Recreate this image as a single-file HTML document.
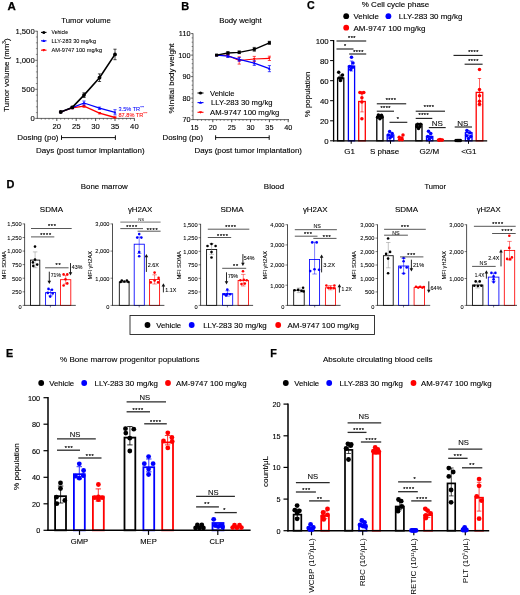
<!DOCTYPE html>
<html><head><meta charset="utf-8"><title>Figure</title>
<style>html,body{margin:0;padding:0;background:#fff}svg{display:block}text{font-family:"Liberation Sans",sans-serif}</style>
</head><body>
<svg width="520" height="595" viewBox="0 0 520 595">
<rect width="520" height="595" fill="#fff"/>
<text x="7.6" y="10.1" font-size="10.3" textLength="8.3" lengthAdjust="spacingAndGlyphs" font-weight="bold" stroke="#000" stroke-width="0.25">A</text>
<text x="181.3" y="9.6" font-size="10.3" textLength="7.9" lengthAdjust="spacingAndGlyphs" font-weight="bold" stroke="#000" stroke-width="0.25">B</text>
<text x="307.0" y="9.3" font-size="10.3" textLength="7.7" lengthAdjust="spacingAndGlyphs" font-weight="bold" stroke="#000" stroke-width="0.25">C</text>
<text x="6.6" y="187.6" font-size="10.3" textLength="7.9" lengthAdjust="spacingAndGlyphs" font-weight="bold" stroke="#000" stroke-width="0.25">D</text>
<text x="6.0" y="357.4" font-size="10.3" textLength="7.2" lengthAdjust="spacingAndGlyphs" font-weight="bold" stroke="#000" stroke-width="0.25">E</text>
<text x="270.2" y="357.4" font-size="10.3" textLength="6.6" lengthAdjust="spacingAndGlyphs" font-weight="bold" stroke="#000" stroke-width="0.25">F</text>
<text x="86.0" y="22.7" font-size="7.7" text-anchor="middle" textLength="49.5" lengthAdjust="spacingAndGlyphs" stroke="#000" stroke-width="0.11">Tumor volume</text>
<line x1="37.3" y1="30.9" x2="37.3" y2="118.7" stroke="#111" stroke-width="0.65"/>
<line x1="37.3" y1="118.4" x2="134.5" y2="118.4" stroke="#111" stroke-width="0.65"/>
<line x1="35.2" y1="118.4" x2="37.3" y2="118.4" stroke="#111" stroke-width="0.6"/>
<text x="34.7" y="120.8" font-size="7.7" text-anchor="end" stroke="#000" stroke-width="0.11">0</text>
<line x1="35.2" y1="89.3" x2="37.3" y2="89.3" stroke="#111" stroke-width="0.6"/>
<text x="34.7" y="91.7" font-size="7.7" text-anchor="end" stroke="#000" stroke-width="0.11">500</text>
<line x1="35.2" y1="60.3" x2="37.3" y2="60.3" stroke="#111" stroke-width="0.6"/>
<text x="34.7" y="62.6" font-size="7.7" text-anchor="end" stroke="#000" stroke-width="0.11">1,000</text>
<line x1="35.2" y1="31.2" x2="37.3" y2="31.2" stroke="#111" stroke-width="0.6"/>
<text x="34.7" y="33.6" font-size="7.7" text-anchor="end" stroke="#000" stroke-width="0.11">1,500</text>
<line x1="35.9" y1="112.6" x2="37.3" y2="112.6" stroke="#000" stroke-width="0.4"/>
<line x1="35.9" y1="106.8" x2="37.3" y2="106.8" stroke="#000" stroke-width="0.4"/>
<line x1="35.9" y1="101.0" x2="37.3" y2="101.0" stroke="#000" stroke-width="0.4"/>
<line x1="35.9" y1="95.1" x2="37.3" y2="95.1" stroke="#000" stroke-width="0.4"/>
<line x1="35.9" y1="83.5" x2="37.3" y2="83.5" stroke="#000" stroke-width="0.4"/>
<line x1="35.9" y1="77.7" x2="37.3" y2="77.7" stroke="#000" stroke-width="0.4"/>
<line x1="35.9" y1="71.9" x2="37.3" y2="71.9" stroke="#000" stroke-width="0.4"/>
<line x1="35.9" y1="66.1" x2="37.3" y2="66.1" stroke="#000" stroke-width="0.4"/>
<line x1="35.9" y1="54.4" x2="37.3" y2="54.4" stroke="#000" stroke-width="0.4"/>
<line x1="35.9" y1="48.6" x2="37.3" y2="48.6" stroke="#000" stroke-width="0.4"/>
<line x1="35.9" y1="42.8" x2="37.3" y2="42.8" stroke="#000" stroke-width="0.4"/>
<line x1="35.9" y1="37.0" x2="37.3" y2="37.0" stroke="#000" stroke-width="0.4"/>
<line x1="41.3" y1="118.4" x2="41.3" y2="119.8" stroke="#000" stroke-width="0.4"/>
<line x1="45.2" y1="118.4" x2="45.2" y2="119.8" stroke="#000" stroke-width="0.4"/>
<line x1="49.0" y1="118.4" x2="49.0" y2="119.8" stroke="#000" stroke-width="0.4"/>
<line x1="52.9" y1="118.4" x2="52.9" y2="119.8" stroke="#000" stroke-width="0.4"/>
<line x1="56.8" y1="118.4" x2="56.8" y2="121.0" stroke="#000" stroke-width="0.7"/>
<text x="56.8" y="129.4" font-size="7.7" text-anchor="middle" stroke="#000" stroke-width="0.11">20</text>
<line x1="60.7" y1="118.4" x2="60.7" y2="119.8" stroke="#000" stroke-width="0.4"/>
<line x1="64.6" y1="118.4" x2="64.6" y2="119.8" stroke="#000" stroke-width="0.4"/>
<line x1="68.4" y1="118.4" x2="68.4" y2="119.8" stroke="#000" stroke-width="0.4"/>
<line x1="72.3" y1="118.4" x2="72.3" y2="119.8" stroke="#000" stroke-width="0.4"/>
<line x1="76.2" y1="118.4" x2="76.2" y2="121.0" stroke="#000" stroke-width="0.7"/>
<text x="76.2" y="129.4" font-size="7.7" text-anchor="middle" stroke="#000" stroke-width="0.11">25</text>
<line x1="80.1" y1="118.4" x2="80.1" y2="119.8" stroke="#000" stroke-width="0.4"/>
<line x1="84.0" y1="118.4" x2="84.0" y2="119.8" stroke="#000" stroke-width="0.4"/>
<line x1="87.8" y1="118.4" x2="87.8" y2="119.8" stroke="#000" stroke-width="0.4"/>
<line x1="91.7" y1="118.4" x2="91.7" y2="119.8" stroke="#000" stroke-width="0.4"/>
<line x1="95.6" y1="118.4" x2="95.6" y2="121.0" stroke="#000" stroke-width="0.7"/>
<text x="95.6" y="129.4" font-size="7.7" text-anchor="middle" stroke="#000" stroke-width="0.11">30</text>
<line x1="99.5" y1="118.4" x2="99.5" y2="119.8" stroke="#000" stroke-width="0.4"/>
<line x1="103.4" y1="118.4" x2="103.4" y2="119.8" stroke="#000" stroke-width="0.4"/>
<line x1="107.2" y1="118.4" x2="107.2" y2="119.8" stroke="#000" stroke-width="0.4"/>
<line x1="111.1" y1="118.4" x2="111.1" y2="119.8" stroke="#000" stroke-width="0.4"/>
<line x1="115.0" y1="118.4" x2="115.0" y2="121.0" stroke="#000" stroke-width="0.7"/>
<text x="115.0" y="129.4" font-size="7.7" text-anchor="middle" stroke="#000" stroke-width="0.11">35</text>
<line x1="118.9" y1="118.4" x2="118.9" y2="119.8" stroke="#000" stroke-width="0.4"/>
<line x1="122.8" y1="118.4" x2="122.8" y2="119.8" stroke="#000" stroke-width="0.4"/>
<line x1="126.6" y1="118.4" x2="126.6" y2="119.8" stroke="#000" stroke-width="0.4"/>
<line x1="130.5" y1="118.4" x2="130.5" y2="119.8" stroke="#000" stroke-width="0.4"/>
<line x1="134.4" y1="118.4" x2="134.4" y2="121.0" stroke="#000" stroke-width="0.7"/>
<text x="134.4" y="129.4" font-size="7.7" text-anchor="middle" stroke="#000" stroke-width="0.11">40</text>
<text x="9.2" y="75.1" font-size="7.9" text-anchor="middle" transform="rotate(-90 9.2 75.1)" stroke="#000" stroke-width="0.12">Tumor volume (mm<tspan font-size="4.6" dy="-2.7">3</tspan><tspan dy="2.7">)</tspan></text>
<polyline points="60.7,112.0 72.3,107.9 84.0,106.2 99.5,113.2 115.0,117.5" fill="none" stroke="#ff0000" stroke-width="1.3" stroke-linejoin="round"/>
<line x1="60.7" y1="111.3" x2="60.7" y2="112.7" stroke="#ff0000" stroke-width="0.7"/>
<line x1="59.1" y1="111.3" x2="62.3" y2="111.3" stroke="#ff0000" stroke-width="0.7"/>
<line x1="59.1" y1="112.7" x2="62.3" y2="112.7" stroke="#ff0000" stroke-width="0.7"/>
<polygon points="59.3,110.9 62.1,110.9 60.7,113.4" fill="#ff0000"/>
<line x1="72.3" y1="107.1" x2="72.3" y2="108.8" stroke="#ff0000" stroke-width="0.7"/>
<line x1="70.7" y1="107.1" x2="73.9" y2="107.1" stroke="#ff0000" stroke-width="0.7"/>
<line x1="70.7" y1="108.8" x2="73.9" y2="108.8" stroke="#ff0000" stroke-width="0.7"/>
<polygon points="70.9,106.8 73.7,106.8 72.3,109.3" fill="#ff0000"/>
<line x1="84.0" y1="105.0" x2="84.0" y2="107.4" stroke="#ff0000" stroke-width="0.7"/>
<line x1="82.4" y1="105.0" x2="85.6" y2="105.0" stroke="#ff0000" stroke-width="0.7"/>
<line x1="82.4" y1="107.4" x2="85.6" y2="107.4" stroke="#ff0000" stroke-width="0.7"/>
<polygon points="82.6,105.1 85.4,105.1 84.0,107.6" fill="#ff0000"/>
<line x1="99.5" y1="112.5" x2="99.5" y2="113.9" stroke="#ff0000" stroke-width="0.7"/>
<line x1="97.9" y1="112.5" x2="101.1" y2="112.5" stroke="#ff0000" stroke-width="0.7"/>
<line x1="97.9" y1="113.9" x2="101.1" y2="113.9" stroke="#ff0000" stroke-width="0.7"/>
<polygon points="98.1,112.1 100.9,112.1 99.5,114.6" fill="#ff0000"/>
<line x1="115.0" y1="117.1" x2="115.0" y2="118.0" stroke="#ff0000" stroke-width="0.7"/>
<line x1="113.4" y1="117.1" x2="116.6" y2="117.1" stroke="#ff0000" stroke-width="0.7"/>
<line x1="113.4" y1="118.0" x2="116.6" y2="118.0" stroke="#ff0000" stroke-width="0.7"/>
<polygon points="113.6,116.4 116.4,116.4 115.0,118.9" fill="#ff0000"/>
<polyline points="60.7,112.0 72.3,107.6 84.0,103.0 99.5,108.2 115.0,112.3" fill="none" stroke="#0000ff" stroke-width="1.3" stroke-linejoin="round"/>
<line x1="60.7" y1="111.3" x2="60.7" y2="112.7" stroke="#0000ff" stroke-width="0.7"/>
<line x1="59.1" y1="111.3" x2="62.3" y2="111.3" stroke="#0000ff" stroke-width="0.7"/>
<line x1="59.1" y1="112.7" x2="62.3" y2="112.7" stroke="#0000ff" stroke-width="0.7"/>
<polygon points="59.3,113.1 62.1,113.1 60.7,110.6" fill="#0000ff"/>
<line x1="72.3" y1="106.6" x2="72.3" y2="108.7" stroke="#0000ff" stroke-width="0.7"/>
<line x1="70.7" y1="106.6" x2="73.9" y2="106.6" stroke="#0000ff" stroke-width="0.7"/>
<line x1="70.7" y1="108.7" x2="73.9" y2="108.7" stroke="#0000ff" stroke-width="0.7"/>
<polygon points="70.9,108.7 73.7,108.7 72.3,106.2" fill="#0000ff"/>
<line x1="84.0" y1="101.0" x2="84.0" y2="105.0" stroke="#0000ff" stroke-width="0.7"/>
<line x1="82.4" y1="101.0" x2="85.6" y2="101.0" stroke="#0000ff" stroke-width="0.7"/>
<line x1="82.4" y1="105.0" x2="85.6" y2="105.0" stroke="#0000ff" stroke-width="0.7"/>
<polygon points="82.6,104.1 85.4,104.1 84.0,101.6" fill="#0000ff"/>
<line x1="99.5" y1="107.1" x2="99.5" y2="109.4" stroke="#0000ff" stroke-width="0.7"/>
<line x1="97.9" y1="107.1" x2="101.1" y2="107.1" stroke="#0000ff" stroke-width="0.7"/>
<line x1="97.9" y1="109.4" x2="101.1" y2="109.4" stroke="#0000ff" stroke-width="0.7"/>
<polygon points="98.1,109.3 100.9,109.3 99.5,106.8" fill="#0000ff"/>
<line x1="115.0" y1="109.7" x2="115.0" y2="114.9" stroke="#0000ff" stroke-width="0.7"/>
<line x1="113.4" y1="109.7" x2="116.6" y2="109.7" stroke="#0000ff" stroke-width="0.7"/>
<line x1="113.4" y1="114.9" x2="116.6" y2="114.9" stroke="#0000ff" stroke-width="0.7"/>
<polygon points="113.6,113.4 116.4,113.4 115.0,110.9" fill="#0000ff"/>
<polyline points="60.7,112.0 72.3,107.4 84.0,95.1 99.5,77.7 115.0,54.4" fill="none" stroke="#000000" stroke-width="1.6" stroke-linejoin="round"/>
<line x1="60.7" y1="111.3" x2="60.7" y2="112.7" stroke="#000000" stroke-width="0.7"/>
<line x1="59.1" y1="111.3" x2="62.3" y2="111.3" stroke="#000000" stroke-width="0.7"/>
<line x1="59.1" y1="112.7" x2="62.3" y2="112.7" stroke="#000000" stroke-width="0.7"/>
<circle cx="60.7" cy="112.0" r="1.9" fill="#000000"/>
<line x1="72.3" y1="106.3" x2="72.3" y2="108.4" stroke="#000000" stroke-width="0.7"/>
<line x1="70.7" y1="106.3" x2="73.9" y2="106.3" stroke="#000000" stroke-width="0.7"/>
<line x1="70.7" y1="108.4" x2="73.9" y2="108.4" stroke="#000000" stroke-width="0.7"/>
<circle cx="72.3" cy="107.4" r="1.9" fill="#000000"/>
<line x1="84.0" y1="92.8" x2="84.0" y2="97.5" stroke="#000000" stroke-width="0.7"/>
<line x1="82.4" y1="92.8" x2="85.6" y2="92.8" stroke="#000000" stroke-width="0.7"/>
<line x1="82.4" y1="97.5" x2="85.6" y2="97.5" stroke="#000000" stroke-width="0.7"/>
<circle cx="84.0" cy="95.1" r="1.9" fill="#000000"/>
<line x1="99.5" y1="73.9" x2="99.5" y2="81.5" stroke="#000000" stroke-width="0.7"/>
<line x1="97.9" y1="73.9" x2="101.1" y2="73.9" stroke="#000000" stroke-width="0.7"/>
<line x1="97.9" y1="81.5" x2="101.1" y2="81.5" stroke="#000000" stroke-width="0.7"/>
<circle cx="99.5" cy="77.7" r="1.9" fill="#000000"/>
<line x1="115.0" y1="49.2" x2="115.0" y2="59.7" stroke="#000000" stroke-width="0.7"/>
<line x1="113.4" y1="49.2" x2="116.6" y2="49.2" stroke="#000000" stroke-width="0.7"/>
<line x1="113.4" y1="59.7" x2="116.6" y2="59.7" stroke="#000000" stroke-width="0.7"/>
<circle cx="115.0" cy="54.4" r="1.9" fill="#000000"/>
<line x1="41.0" y1="32.4" x2="46.5" y2="32.4" stroke="#000000" stroke-width="1.1"/>
<circle cx="43.8" cy="32.4" r="1.5" fill="#000000"/>
<text x="51.5" y="34.4" font-size="5.6" textLength="16.5" lengthAdjust="spacingAndGlyphs" stroke="#000" stroke-width="0.07">Vehicle</text>
<line x1="41.0" y1="40.8" x2="46.5" y2="40.8" stroke="#0000ff" stroke-width="1.1"/>
<polygon points="42.3,41.9 45.3,41.9 43.8,39.3" fill="#0000ff"/>
<text x="51.5" y="42.8" font-size="5.6" textLength="44.5" lengthAdjust="spacingAndGlyphs" stroke="#000" stroke-width="0.07">LLY-283 30 mg/kg</text>
<line x1="41.0" y1="50.2" x2="46.5" y2="50.2" stroke="#ff0000" stroke-width="1.1"/>
<polygon points="42.3,49.1 45.3,49.1 43.8,51.7" fill="#ff0000"/>
<text x="51.5" y="52.2" font-size="5.6" textLength="50.5" lengthAdjust="spacingAndGlyphs" stroke="#000" stroke-width="0.07">AM-9747 100 mg/kg</text>
<text x="118.5" y="111.2" font-size="5.6" fill="#0000ff" stroke="#0000ff" stroke-width="0.07">3.5% TR<tspan font-size="3.4" dy="-2">***</tspan></text>
<text x="118.5" y="117.3" font-size="5.6" fill="#ff0000" stroke="#ff0000" stroke-width="0.07">87.8% TR<tspan font-size="3.4" dy="-2">***</tspan></text>
<text x="17.2" y="140.1" font-size="8" textLength="41.3" lengthAdjust="spacingAndGlyphs" stroke="#000" stroke-width="0.12">Dosing (po)</text>
<line x1="61.5" y1="137.6" x2="115.4" y2="137.6" stroke="#111" stroke-width="1.0"/>
<line x1="61.5" y1="135.3" x2="61.5" y2="139.9" stroke="#111" stroke-width="1.0"/>
<line x1="115.4" y1="135.3" x2="115.4" y2="139.9" stroke="#111" stroke-width="1.0"/>
<text x="36.0" y="153.1" font-size="8" textLength="108.6" lengthAdjust="spacingAndGlyphs" stroke="#000" stroke-width="0.12">Days (post tumor implantation)</text>
<text x="240.5" y="23.4" font-size="7.8" text-anchor="middle" textLength="42.6" lengthAdjust="spacingAndGlyphs" stroke="#000" stroke-width="0.12">Body weight</text>
<line x1="193.0" y1="33.3" x2="193.0" y2="119.9" stroke="#111" stroke-width="0.65"/>
<line x1="193.0" y1="119.6" x2="289.0" y2="119.6" stroke="#111" stroke-width="0.65"/>
<line x1="190.9" y1="119.6" x2="193.0" y2="119.6" stroke="#111" stroke-width="0.6"/>
<text x="190.5" y="122.4" font-size="7.3" text-anchor="end" stroke="#000" stroke-width="0.11">70</text>
<line x1="190.9" y1="98.1" x2="193.0" y2="98.1" stroke="#111" stroke-width="0.6"/>
<text x="190.5" y="100.9" font-size="7.3" text-anchor="end" stroke="#000" stroke-width="0.11">80</text>
<line x1="190.9" y1="76.6" x2="193.0" y2="76.6" stroke="#111" stroke-width="0.6"/>
<text x="190.5" y="79.4" font-size="7.3" text-anchor="end" stroke="#000" stroke-width="0.11">90</text>
<line x1="190.9" y1="55.1" x2="193.0" y2="55.1" stroke="#111" stroke-width="0.6"/>
<text x="190.5" y="57.9" font-size="7.3" text-anchor="end" stroke="#000" stroke-width="0.11">100</text>
<line x1="190.9" y1="33.6" x2="193.0" y2="33.6" stroke="#111" stroke-width="0.6"/>
<text x="190.5" y="36.4" font-size="7.3" text-anchor="end" stroke="#000" stroke-width="0.11">110</text>
<line x1="191.6" y1="115.3" x2="193.0" y2="115.3" stroke="#000" stroke-width="0.4"/>
<line x1="191.6" y1="111.0" x2="193.0" y2="111.0" stroke="#000" stroke-width="0.4"/>
<line x1="191.6" y1="106.7" x2="193.0" y2="106.7" stroke="#000" stroke-width="0.4"/>
<line x1="191.6" y1="102.4" x2="193.0" y2="102.4" stroke="#000" stroke-width="0.4"/>
<line x1="191.6" y1="93.8" x2="193.0" y2="93.8" stroke="#000" stroke-width="0.4"/>
<line x1="191.6" y1="89.5" x2="193.0" y2="89.5" stroke="#000" stroke-width="0.4"/>
<line x1="191.6" y1="85.2" x2="193.0" y2="85.2" stroke="#000" stroke-width="0.4"/>
<line x1="191.6" y1="80.9" x2="193.0" y2="80.9" stroke="#000" stroke-width="0.4"/>
<line x1="191.6" y1="72.3" x2="193.0" y2="72.3" stroke="#000" stroke-width="0.4"/>
<line x1="191.6" y1="68.0" x2="193.0" y2="68.0" stroke="#000" stroke-width="0.4"/>
<line x1="191.6" y1="63.7" x2="193.0" y2="63.7" stroke="#000" stroke-width="0.4"/>
<line x1="191.6" y1="59.4" x2="193.0" y2="59.4" stroke="#000" stroke-width="0.4"/>
<line x1="191.6" y1="50.8" x2="193.0" y2="50.8" stroke="#000" stroke-width="0.4"/>
<line x1="191.6" y1="46.5" x2="193.0" y2="46.5" stroke="#000" stroke-width="0.4"/>
<line x1="191.6" y1="42.2" x2="193.0" y2="42.2" stroke="#000" stroke-width="0.4"/>
<line x1="191.6" y1="37.9" x2="193.0" y2="37.9" stroke="#000" stroke-width="0.4"/>
<text x="194.6" y="129.8" font-size="7.3" text-anchor="middle" stroke="#000" stroke-width="0.11">15</text>
<line x1="197.7" y1="119.6" x2="197.7" y2="121.0" stroke="#000" stroke-width="0.4"/>
<line x1="201.5" y1="119.6" x2="201.5" y2="121.0" stroke="#000" stroke-width="0.4"/>
<line x1="205.3" y1="119.6" x2="205.3" y2="121.0" stroke="#000" stroke-width="0.4"/>
<line x1="209.0" y1="119.6" x2="209.0" y2="121.0" stroke="#000" stroke-width="0.4"/>
<line x1="212.8" y1="119.6" x2="212.8" y2="122.2" stroke="#000" stroke-width="0.7"/>
<text x="212.8" y="129.8" font-size="7.3" text-anchor="middle" stroke="#000" stroke-width="0.11">20</text>
<line x1="216.6" y1="119.6" x2="216.6" y2="121.0" stroke="#000" stroke-width="0.4"/>
<line x1="220.3" y1="119.6" x2="220.3" y2="121.0" stroke="#000" stroke-width="0.4"/>
<line x1="224.1" y1="119.6" x2="224.1" y2="121.0" stroke="#000" stroke-width="0.4"/>
<line x1="227.9" y1="119.6" x2="227.9" y2="121.0" stroke="#000" stroke-width="0.4"/>
<line x1="231.7" y1="119.6" x2="231.7" y2="122.2" stroke="#000" stroke-width="0.7"/>
<text x="231.7" y="129.8" font-size="7.3" text-anchor="middle" stroke="#000" stroke-width="0.11">25</text>
<line x1="235.4" y1="119.6" x2="235.4" y2="121.0" stroke="#000" stroke-width="0.4"/>
<line x1="239.2" y1="119.6" x2="239.2" y2="121.0" stroke="#000" stroke-width="0.4"/>
<line x1="243.0" y1="119.6" x2="243.0" y2="121.0" stroke="#000" stroke-width="0.4"/>
<line x1="246.7" y1="119.6" x2="246.7" y2="121.0" stroke="#000" stroke-width="0.4"/>
<line x1="250.5" y1="119.6" x2="250.5" y2="122.2" stroke="#000" stroke-width="0.7"/>
<text x="250.5" y="129.8" font-size="7.3" text-anchor="middle" stroke="#000" stroke-width="0.11">30</text>
<line x1="254.3" y1="119.6" x2="254.3" y2="121.0" stroke="#000" stroke-width="0.4"/>
<line x1="258.0" y1="119.6" x2="258.0" y2="121.0" stroke="#000" stroke-width="0.4"/>
<line x1="261.8" y1="119.6" x2="261.8" y2="121.0" stroke="#000" stroke-width="0.4"/>
<line x1="265.6" y1="119.6" x2="265.6" y2="121.0" stroke="#000" stroke-width="0.4"/>
<line x1="269.4" y1="119.6" x2="269.4" y2="122.2" stroke="#000" stroke-width="0.7"/>
<text x="269.4" y="129.8" font-size="7.3" text-anchor="middle" stroke="#000" stroke-width="0.11">35</text>
<line x1="273.1" y1="119.6" x2="273.1" y2="121.0" stroke="#000" stroke-width="0.4"/>
<line x1="276.9" y1="119.6" x2="276.9" y2="121.0" stroke="#000" stroke-width="0.4"/>
<line x1="280.7" y1="119.6" x2="280.7" y2="121.0" stroke="#000" stroke-width="0.4"/>
<line x1="284.4" y1="119.6" x2="284.4" y2="121.0" stroke="#000" stroke-width="0.4"/>
<line x1="288.2" y1="119.6" x2="288.2" y2="122.2" stroke="#000" stroke-width="0.7"/>
<text x="288.2" y="129.8" font-size="7.3" text-anchor="middle" stroke="#000" stroke-width="0.11">40</text>
<text x="174.3" y="78.5" font-size="7.6" text-anchor="middle" textLength="70.0" lengthAdjust="spacingAndGlyphs" transform="rotate(-90 174.3 78.5)" stroke="#000" stroke-width="0.11">%Initial body weight</text>
<polyline points="216.6,55.1 227.9,55.5 239.2,60.5 254.3,59.0 269.4,58.3" fill="none" stroke="#ff0000" stroke-width="1.2" stroke-linejoin="round"/>
<line x1="216.6" y1="54.5" x2="216.6" y2="55.7" stroke="#ff0000" stroke-width="0.7"/>
<line x1="215.0" y1="54.5" x2="218.2" y2="54.5" stroke="#ff0000" stroke-width="0.7"/>
<line x1="215.0" y1="55.7" x2="218.2" y2="55.7" stroke="#ff0000" stroke-width="0.7"/>
<polygon points="215.2,54.0 218.0,54.0 216.6,56.5" fill="#ff0000"/>
<line x1="227.9" y1="54.2" x2="227.9" y2="56.8" stroke="#ff0000" stroke-width="0.7"/>
<line x1="226.3" y1="54.2" x2="229.5" y2="54.2" stroke="#ff0000" stroke-width="0.7"/>
<line x1="226.3" y1="56.8" x2="229.5" y2="56.8" stroke="#ff0000" stroke-width="0.7"/>
<polygon points="226.5,54.4 229.3,54.4 227.9,56.9" fill="#ff0000"/>
<line x1="239.2" y1="56.8" x2="239.2" y2="64.1" stroke="#ff0000" stroke-width="0.7"/>
<line x1="237.6" y1="56.8" x2="240.8" y2="56.8" stroke="#ff0000" stroke-width="0.7"/>
<line x1="237.6" y1="64.1" x2="240.8" y2="64.1" stroke="#ff0000" stroke-width="0.7"/>
<polygon points="237.8,59.4 240.6,59.4 239.2,61.9" fill="#ff0000"/>
<line x1="254.3" y1="56.4" x2="254.3" y2="61.5" stroke="#ff0000" stroke-width="0.7"/>
<line x1="252.7" y1="56.4" x2="255.9" y2="56.4" stroke="#ff0000" stroke-width="0.7"/>
<line x1="252.7" y1="61.5" x2="255.9" y2="61.5" stroke="#ff0000" stroke-width="0.7"/>
<polygon points="252.9,57.9 255.7,57.9 254.3,60.4" fill="#ff0000"/>
<line x1="269.4" y1="56.2" x2="269.4" y2="60.5" stroke="#ff0000" stroke-width="0.7"/>
<line x1="267.8" y1="56.2" x2="271.0" y2="56.2" stroke="#ff0000" stroke-width="0.7"/>
<line x1="267.8" y1="60.5" x2="271.0" y2="60.5" stroke="#ff0000" stroke-width="0.7"/>
<polygon points="268.0,57.2 270.8,57.2 269.4,59.7" fill="#ff0000"/>
<polyline points="216.6,55.1 227.9,56.2 239.2,59.4 254.3,63.1 269.4,68.6" fill="none" stroke="#0000ff" stroke-width="1.2" stroke-linejoin="round"/>
<line x1="216.6" y1="54.5" x2="216.6" y2="55.7" stroke="#0000ff" stroke-width="0.7"/>
<line x1="215.0" y1="54.5" x2="218.2" y2="54.5" stroke="#0000ff" stroke-width="0.7"/>
<line x1="215.0" y1="55.7" x2="218.2" y2="55.7" stroke="#0000ff" stroke-width="0.7"/>
<polygon points="215.2,56.2 218.0,56.2 216.6,53.7" fill="#0000ff"/>
<line x1="227.9" y1="54.9" x2="227.9" y2="57.5" stroke="#0000ff" stroke-width="0.7"/>
<line x1="226.3" y1="54.9" x2="229.5" y2="54.9" stroke="#0000ff" stroke-width="0.7"/>
<line x1="226.3" y1="57.5" x2="229.5" y2="57.5" stroke="#0000ff" stroke-width="0.7"/>
<polygon points="226.5,57.3 229.3,57.3 227.9,54.8" fill="#0000ff"/>
<line x1="239.2" y1="57.5" x2="239.2" y2="61.3" stroke="#0000ff" stroke-width="0.7"/>
<line x1="237.6" y1="57.5" x2="240.8" y2="57.5" stroke="#0000ff" stroke-width="0.7"/>
<line x1="237.6" y1="61.3" x2="240.8" y2="61.3" stroke="#0000ff" stroke-width="0.7"/>
<polygon points="237.8,60.5 240.6,60.5 239.2,58.0" fill="#0000ff"/>
<line x1="254.3" y1="60.7" x2="254.3" y2="65.4" stroke="#0000ff" stroke-width="0.7"/>
<line x1="252.7" y1="60.7" x2="255.9" y2="60.7" stroke="#0000ff" stroke-width="0.7"/>
<line x1="252.7" y1="65.4" x2="255.9" y2="65.4" stroke="#0000ff" stroke-width="0.7"/>
<polygon points="252.9,64.2 255.7,64.2 254.3,61.7" fill="#0000ff"/>
<line x1="269.4" y1="65.6" x2="269.4" y2="71.7" stroke="#0000ff" stroke-width="0.7"/>
<line x1="267.8" y1="65.6" x2="271.0" y2="65.6" stroke="#0000ff" stroke-width="0.7"/>
<line x1="267.8" y1="71.7" x2="271.0" y2="71.7" stroke="#0000ff" stroke-width="0.7"/>
<polygon points="268.0,69.7 270.8,69.7 269.4,67.2" fill="#0000ff"/>
<polyline points="216.6,55.1 227.9,53.0 239.2,52.3 254.3,49.3 269.4,42.8" fill="none" stroke="#000000" stroke-width="1.3" stroke-linejoin="round"/>
<line x1="216.6" y1="54.5" x2="216.6" y2="55.7" stroke="#000000" stroke-width="0.7"/>
<line x1="215.0" y1="54.5" x2="218.2" y2="54.5" stroke="#000000" stroke-width="0.7"/>
<line x1="215.0" y1="55.7" x2="218.2" y2="55.7" stroke="#000000" stroke-width="0.7"/>
<rect x="215.1" y="53.6" width="3.0" height="3.0" fill="#000000" stroke="#000000" stroke-width="0"/>
<line x1="227.9" y1="51.7" x2="227.9" y2="54.2" stroke="#000000" stroke-width="0.7"/>
<line x1="226.3" y1="51.7" x2="229.5" y2="51.7" stroke="#000000" stroke-width="0.7"/>
<line x1="226.3" y1="54.2" x2="229.5" y2="54.2" stroke="#000000" stroke-width="0.7"/>
<rect x="226.4" y="51.5" width="3.0" height="3.0" fill="#000000" stroke="#000000" stroke-width="0"/>
<line x1="239.2" y1="51.0" x2="239.2" y2="53.6" stroke="#000000" stroke-width="0.7"/>
<line x1="237.6" y1="51.0" x2="240.8" y2="51.0" stroke="#000000" stroke-width="0.7"/>
<line x1="237.6" y1="53.6" x2="240.8" y2="53.6" stroke="#000000" stroke-width="0.7"/>
<rect x="237.7" y="50.8" width="3.0" height="3.0" fill="#000000" stroke="#000000" stroke-width="0"/>
<line x1="254.3" y1="47.4" x2="254.3" y2="51.2" stroke="#000000" stroke-width="0.7"/>
<line x1="252.7" y1="47.4" x2="255.9" y2="47.4" stroke="#000000" stroke-width="0.7"/>
<line x1="252.7" y1="51.2" x2="255.9" y2="51.2" stroke="#000000" stroke-width="0.7"/>
<rect x="252.8" y="47.8" width="3.0" height="3.0" fill="#000000" stroke="#000000" stroke-width="0"/>
<line x1="269.4" y1="41.3" x2="269.4" y2="44.3" stroke="#000000" stroke-width="0.7"/>
<line x1="267.8" y1="41.3" x2="271.0" y2="41.3" stroke="#000000" stroke-width="0.7"/>
<line x1="267.8" y1="44.3" x2="271.0" y2="44.3" stroke="#000000" stroke-width="0.7"/>
<rect x="267.9" y="41.3" width="3.0" height="3.0" fill="#000000" stroke="#000000" stroke-width="0"/>
<line x1="197.5" y1="93.0" x2="203.5" y2="93.0" stroke="#000000" stroke-width="1.1"/>
<circle cx="200.5" cy="93.0" r="1.6" fill="#000000"/>
<text x="210.0" y="95.8" font-size="7.7" textLength="24.5" lengthAdjust="spacingAndGlyphs" stroke="#000" stroke-width="0.11">Vehicle</text>
<line x1="197.5" y1="102.6" x2="203.5" y2="102.6" stroke="#0000ff" stroke-width="1.1"/>
<polygon points="199.0,103.7 202.0,103.7 200.5,101.1" fill="#0000ff"/>
<text x="211.0" y="105.4" font-size="7.7" textLength="61.5" lengthAdjust="spacingAndGlyphs" stroke="#000" stroke-width="0.11">LLY-283 30 mg/kg</text>
<line x1="197.5" y1="112.3" x2="203.5" y2="112.3" stroke="#ff0000" stroke-width="1.1"/>
<polygon points="199.0,111.2 202.0,111.2 200.5,113.8" fill="#ff0000"/>
<text x="210.0" y="115.1" font-size="7.7" textLength="69.3" lengthAdjust="spacingAndGlyphs" stroke="#000" stroke-width="0.11">AM-9747 100 mg/kg</text>
<text x="162.5" y="139.6" font-size="7.9" textLength="40.5" lengthAdjust="spacingAndGlyphs" stroke="#000" stroke-width="0.12">Dosing (po)</text>
<line x1="215.6" y1="137.6" x2="269.2" y2="137.6" stroke="#111" stroke-width="1.0"/>
<line x1="215.6" y1="135.3" x2="215.6" y2="139.9" stroke="#111" stroke-width="1.0"/>
<line x1="269.2" y1="135.3" x2="269.2" y2="139.9" stroke="#111" stroke-width="1.0"/>
<text x="194.5" y="153.2" font-size="7.9" textLength="107.5" lengthAdjust="spacingAndGlyphs" stroke="#000" stroke-width="0.12">Days (post tumor implantation)</text>
<text x="361.8" y="7.2" font-size="8" textLength="67.5" lengthAdjust="spacingAndGlyphs" stroke="#000" stroke-width="0.12">% Cell cycle phase</text>
<circle cx="346.2" cy="16.2" r="2.9" fill="#000000"/>
<text x="353.5" y="19.3" font-size="8" textLength="25.5" lengthAdjust="spacingAndGlyphs" stroke="#000" stroke-width="0.12">Vehicle</text>
<circle cx="388.4" cy="16.2" r="2.9" fill="#0000ff"/>
<text x="398.8" y="19.3" font-size="8" textLength="63.5" lengthAdjust="spacingAndGlyphs" stroke="#000" stroke-width="0.12">LLY-283 30 mg/kg</text>
<circle cx="346.2" cy="27.7" r="2.9" fill="#ff0000"/>
<text x="353.5" y="30.8" font-size="8" textLength="72.0" lengthAdjust="spacingAndGlyphs" stroke="#000" stroke-width="0.12">AM-9747 100 mg/kg</text>
<text x="310.0" y="94.4" font-size="7.6" text-anchor="middle" textLength="45.7" lengthAdjust="spacingAndGlyphs" transform="rotate(-90 310.0 94.4)" stroke="#000" stroke-width="0.11">% population</text>
<rect x="337.6" y="78.1" width="6.2" height="62.7" fill="#fff" stroke="#000000" stroke-width="1.3"/>
<line x1="340.7" y1="75.0" x2="340.7" y2="81.0" stroke="#000000" stroke-width="0.6"/>
<line x1="339.0" y1="75.0" x2="342.4" y2="75.0" stroke="#000000" stroke-width="0.6"/>
<line x1="339.0" y1="81.0" x2="342.4" y2="81.0" stroke="#000000" stroke-width="0.6"/>
<rect x="348.4" y="66.1" width="6.2" height="74.7" fill="#fff" stroke="#0000ff" stroke-width="1.3"/>
<line x1="351.5" y1="61.0" x2="351.5" y2="71.0" stroke="#0000ff" stroke-width="0.6"/>
<line x1="349.8" y1="61.0" x2="353.2" y2="61.0" stroke="#0000ff" stroke-width="0.6"/>
<line x1="349.8" y1="71.0" x2="353.2" y2="71.0" stroke="#0000ff" stroke-width="0.6"/>
<rect x="358.7" y="101.5" width="6.6" height="39.3" fill="#fff" stroke="#ff0000" stroke-width="1.3"/>
<line x1="362.0" y1="92.0" x2="362.0" y2="111.9" stroke="#ff0000" stroke-width="0.6"/>
<line x1="360.3" y1="92.0" x2="363.7" y2="92.0" stroke="#ff0000" stroke-width="0.6"/>
<line x1="360.3" y1="111.9" x2="363.7" y2="111.9" stroke="#ff0000" stroke-width="0.6"/>
<line x1="351.2" y1="140.8" x2="351.2" y2="143.8" stroke="#000" stroke-width="1.0"/>
<text x="349.6" y="154.4" font-size="8" text-anchor="middle" stroke="#000" stroke-width="0.12">G1</text>
<rect x="376.8" y="116.5" width="6.2" height="24.3" fill="#fff" stroke="#000000" stroke-width="1.3"/>
<rect x="387.2" y="135.0" width="6.6" height="5.8" fill="#fff" stroke="#0000ff" stroke-width="1.3"/>
<line x1="390.5" y1="140.8" x2="390.5" y2="143.8" stroke="#000" stroke-width="1.0"/>
<text x="384.6" y="154.4" font-size="8" text-anchor="middle" stroke="#000" stroke-width="0.12">S phase</text>
<rect x="415.8" y="124.2" width="6.2" height="16.6" fill="#fff" stroke="#000000" stroke-width="1.3"/>
<rect x="426.5" y="136.5" width="6.3" height="4.3" fill="#fff" stroke="#0000ff" stroke-width="1.3"/>
<line x1="429.6" y1="133.0" x2="429.6" y2="139.0" stroke="#0000ff" stroke-width="0.6"/>
<line x1="427.9" y1="133.0" x2="431.3" y2="133.0" stroke="#0000ff" stroke-width="0.6"/>
<line x1="427.9" y1="139.0" x2="431.3" y2="139.0" stroke="#0000ff" stroke-width="0.6"/>
<line x1="429.3" y1="140.8" x2="429.3" y2="143.8" stroke="#000" stroke-width="1.0"/>
<text x="429.3" y="154.4" font-size="8" text-anchor="middle" stroke="#000" stroke-width="0.12">G2/M</text>
<rect x="465.4" y="132.7" width="6.6" height="8.1" fill="#fff" stroke="#0000ff" stroke-width="1.3"/>
<line x1="468.7" y1="130.5" x2="468.7" y2="136.0" stroke="#0000ff" stroke-width="0.6"/>
<line x1="467.0" y1="130.5" x2="470.4" y2="130.5" stroke="#0000ff" stroke-width="0.6"/>
<line x1="467.0" y1="136.0" x2="470.4" y2="136.0" stroke="#0000ff" stroke-width="0.6"/>
<rect x="476.2" y="92.4" width="6.6" height="48.4" fill="#fff" stroke="#ff0000" stroke-width="1.3"/>
<line x1="479.5" y1="78.5" x2="479.5" y2="105.8" stroke="#ff0000" stroke-width="0.6"/>
<line x1="477.8" y1="78.5" x2="481.2" y2="78.5" stroke="#ff0000" stroke-width="0.6"/>
<line x1="477.8" y1="105.8" x2="481.2" y2="105.8" stroke="#ff0000" stroke-width="0.6"/>
<line x1="468.5" y1="140.8" x2="468.5" y2="143.8" stroke="#000" stroke-width="1.0"/>
<text x="468.8" y="154.4" font-size="8" text-anchor="middle" stroke="#000" stroke-width="0.12">&lt;G1</text>
<line x1="333.6" y1="40.0" x2="333.6" y2="141.4" stroke="#000" stroke-width="1.3"/>
<line x1="333.0" y1="140.8" x2="487.2" y2="140.8" stroke="#000" stroke-width="1.3"/>
<circle cx="338.7" cy="72.2" r="1.75" fill="#000000"/>
<circle cx="342.5" cy="75.0" r="1.75" fill="#000000"/>
<circle cx="339.2" cy="78.1" r="1.75" fill="#000000"/>
<circle cx="341.9" cy="78.1" r="1.75" fill="#000000"/>
<circle cx="340.4" cy="80.4" r="1.75" fill="#000000"/>
<circle cx="351.5" cy="57.3" r="1.75" fill="#0000ff"/>
<circle cx="353.0" cy="63.0" r="1.75" fill="#0000ff"/>
<circle cx="349.6" cy="66.5" r="1.75" fill="#0000ff"/>
<circle cx="352.7" cy="67.3" r="1.75" fill="#0000ff"/>
<circle cx="350.7" cy="69.6" r="1.75" fill="#0000ff"/>
<circle cx="359.9" cy="92.4" r="1.75" fill="#ff0000"/>
<circle cx="363.8" cy="92.4" r="1.75" fill="#ff0000"/>
<circle cx="361.9" cy="93.0" r="1.75" fill="#ff0000"/>
<circle cx="361.9" cy="97.8" r="1.75" fill="#ff0000"/>
<circle cx="361.9" cy="101.9" r="1.75" fill="#ff0000"/>
<circle cx="361.9" cy="118.8" r="1.75" fill="#ff0000"/>
<circle cx="378.4" cy="115.0" r="1.75" fill="#000000"/>
<circle cx="381.5" cy="115.3" r="1.75" fill="#000000"/>
<circle cx="377.6" cy="117.3" r="1.75" fill="#000000"/>
<circle cx="381.9" cy="117.3" r="1.75" fill="#000000"/>
<circle cx="379.9" cy="118.8" r="1.75" fill="#000000"/>
<circle cx="389.6" cy="131.5" r="1.75" fill="#0000ff"/>
<circle cx="392.2" cy="133.5" r="1.75" fill="#0000ff"/>
<circle cx="388.4" cy="135.0" r="1.75" fill="#0000ff"/>
<circle cx="391.5" cy="136.5" r="1.75" fill="#0000ff"/>
<circle cx="389.9" cy="138.1" r="1.75" fill="#0000ff"/>
<circle cx="403.0" cy="135.0" r="1.75" fill="#ff0000"/>
<circle cx="399.2" cy="137.3" r="1.75" fill="#ff0000"/>
<circle cx="401.9" cy="138.1" r="1.75" fill="#ff0000"/>
<circle cx="399.5" cy="139.7" r="1.75" fill="#ff0000"/>
<circle cx="402.2" cy="139.7" r="1.75" fill="#ff0000"/>
<circle cx="417.7" cy="124.2" r="1.75" fill="#000000"/>
<circle cx="420.5" cy="124.2" r="1.75" fill="#000000"/>
<circle cx="416.9" cy="126.5" r="1.75" fill="#000000"/>
<circle cx="420.0" cy="126.5" r="1.75" fill="#000000"/>
<circle cx="418.5" cy="128.4" r="1.75" fill="#000000"/>
<circle cx="428.5" cy="131.2" r="1.75" fill="#0000ff"/>
<circle cx="430.8" cy="133.5" r="1.75" fill="#0000ff"/>
<circle cx="427.7" cy="136.5" r="1.75" fill="#0000ff"/>
<circle cx="431.2" cy="137.3" r="1.75" fill="#0000ff"/>
<circle cx="429.2" cy="139.2" r="1.75" fill="#0000ff"/>
<circle cx="438.5" cy="139.9" r="1.75" fill="#ff0000"/>
<circle cx="440.0" cy="139.6" r="1.75" fill="#ff0000"/>
<circle cx="441.2" cy="139.9" r="1.75" fill="#ff0000"/>
<circle cx="442.4" cy="139.9" r="1.75" fill="#ff0000"/>
<circle cx="439.3" cy="140.2" r="1.75" fill="#ff0000"/>
<circle cx="456.0" cy="140.5" r="1.75" fill="#000000"/>
<circle cx="457.3" cy="140.5" r="1.75" fill="#000000"/>
<circle cx="458.3" cy="140.5" r="1.75" fill="#000000"/>
<circle cx="459.3" cy="140.5" r="1.75" fill="#000000"/>
<circle cx="460.4" cy="140.5" r="1.75" fill="#000000"/>
<circle cx="466.9" cy="130.4" r="1.75" fill="#0000ff"/>
<circle cx="470.0" cy="132.7" r="1.75" fill="#0000ff"/>
<circle cx="466.6" cy="135.8" r="1.75" fill="#0000ff"/>
<circle cx="470.8" cy="136.5" r="1.75" fill="#0000ff"/>
<circle cx="468.5" cy="138.5" r="1.75" fill="#0000ff"/>
<circle cx="479.5" cy="69.6" r="1.75" fill="#ff0000"/>
<circle cx="479.5" cy="89.6" r="1.75" fill="#ff0000"/>
<circle cx="479.5" cy="95.8" r="1.75" fill="#ff0000"/>
<circle cx="479.5" cy="101.2" r="1.75" fill="#ff0000"/>
<circle cx="479.5" cy="104.2" r="1.75" fill="#ff0000"/>
<line x1="330.1" y1="140.8" x2="333.6" y2="140.8" stroke="#000" stroke-width="1.0"/>
<text x="328.7" y="143.8" font-size="7.8" text-anchor="end" stroke="#000" stroke-width="0.12">0</text>
<line x1="330.1" y1="120.8" x2="333.6" y2="120.8" stroke="#000" stroke-width="1.0"/>
<text x="328.7" y="123.8" font-size="7.8" text-anchor="end" stroke="#000" stroke-width="0.12">20</text>
<line x1="330.1" y1="100.7" x2="333.6" y2="100.7" stroke="#000" stroke-width="1.0"/>
<text x="328.7" y="103.7" font-size="7.8" text-anchor="end" stroke="#000" stroke-width="0.12">40</text>
<line x1="330.1" y1="80.7" x2="333.6" y2="80.7" stroke="#000" stroke-width="1.0"/>
<text x="328.7" y="83.7" font-size="7.8" text-anchor="end" stroke="#000" stroke-width="0.12">60</text>
<line x1="330.1" y1="60.6" x2="333.6" y2="60.6" stroke="#000" stroke-width="1.0"/>
<text x="328.7" y="63.6" font-size="7.8" text-anchor="end" stroke="#000" stroke-width="0.12">80</text>
<line x1="330.1" y1="40.6" x2="333.6" y2="40.6" stroke="#000" stroke-width="1.0"/>
<text x="328.7" y="43.6" font-size="7.8" text-anchor="end" stroke="#000" stroke-width="0.12">100</text>
<line x1="336.5" y1="41.0" x2="366.2" y2="41.0" stroke="#1a1a1a" stroke-width="1.1"/>
<text x="352.0" y="39.8" font-size="5.5" text-anchor="middle" fill="#111" letter-spacing="0.51" stroke="#111" stroke-width="0.22">***</text>
<line x1="336.5" y1="49.0" x2="353.5" y2="49.0" stroke="#1a1a1a" stroke-width="1.1"/>
<text x="345.3" y="48.4" font-size="5.5" text-anchor="middle" fill="#111" letter-spacing="0.51" stroke="#111" stroke-width="0.22">*</text>
<line x1="349.2" y1="54.0" x2="366.2" y2="54.0" stroke="#1a1a1a" stroke-width="1.1"/>
<text x="358.5" y="54.2" font-size="5.5" text-anchor="middle" fill="#111" letter-spacing="0.51" stroke="#111" stroke-width="0.22">****</text>
<line x1="376.8" y1="103.8" x2="406.2" y2="103.8" stroke="#1a1a1a" stroke-width="1.1"/>
<text x="391.0" y="101.7" font-size="5.5" text-anchor="middle" fill="#111" letter-spacing="0.51" stroke="#111" stroke-width="0.22">****</text>
<line x1="376.8" y1="111.2" x2="394.0" y2="111.2" stroke="#1a1a1a" stroke-width="1.1"/>
<text x="385.7" y="109.8" font-size="5.5" text-anchor="middle" fill="#111" letter-spacing="0.51" stroke="#111" stroke-width="0.22">****</text>
<line x1="389.5" y1="122.3" x2="407.3" y2="122.3" stroke="#1a1a1a" stroke-width="1.1"/>
<text x="398.2" y="120.6" font-size="5.5" text-anchor="middle" fill="#111" letter-spacing="0.51" stroke="#111" stroke-width="0.22">*</text>
<line x1="415.7" y1="111.2" x2="445.0" y2="111.2" stroke="#1a1a1a" stroke-width="1.1"/>
<text x="429.1" y="109.1" font-size="5.5" text-anchor="middle" fill="#111" letter-spacing="0.51" stroke="#111" stroke-width="0.22">****</text>
<line x1="415.7" y1="118.4" x2="432.3" y2="118.4" stroke="#1a1a1a" stroke-width="1.1"/>
<text x="423.8" y="117.0" font-size="5.5" text-anchor="middle" fill="#111" letter-spacing="0.51" stroke="#111" stroke-width="0.22">****</text>
<line x1="428.8" y1="127.6" x2="445.7" y2="127.6" stroke="#1a1a1a" stroke-width="1.1"/>
<text x="437.4" y="126.3" font-size="8" text-anchor="middle" fill="#111" stroke="#111" stroke-width="0.12">NS</text>
<line x1="454.7" y1="127.0" x2="472.0" y2="127.0" stroke="#1a1a1a" stroke-width="1.1"/>
<text x="462.8" y="125.7" font-size="8" text-anchor="middle" fill="#111" stroke="#111" stroke-width="0.12">NS</text>
<line x1="453.5" y1="55.4" x2="482.6" y2="55.4" stroke="#1a1a1a" stroke-width="1.1"/>
<text x="473.5" y="54.0" font-size="5.5" text-anchor="middle" fill="#111" letter-spacing="0.51" stroke="#111" stroke-width="0.22">****</text>
<line x1="464.6" y1="64.2" x2="482.6" y2="64.2" stroke="#1a1a1a" stroke-width="1.1"/>
<text x="473.5" y="62.8" font-size="5.5" text-anchor="middle" fill="#111" letter-spacing="0.51" stroke="#111" stroke-width="0.22">****</text>
<text x="104.3" y="189.1" font-size="7.8" text-anchor="middle" textLength="47.0" lengthAdjust="spacingAndGlyphs" stroke="#000" stroke-width="0.12">Bone marrow</text>
<text x="274.0" y="189.1" font-size="7.8" text-anchor="middle" textLength="20.3" lengthAdjust="spacingAndGlyphs" stroke="#000" stroke-width="0.12">Blood</text>
<text x="435.2" y="189.1" font-size="7.8" text-anchor="middle" textLength="21.5" lengthAdjust="spacingAndGlyphs" stroke="#000" stroke-width="0.12">Tumor</text>
<text x="51.4" y="212.3" font-size="8" text-anchor="middle" textLength="23.2" lengthAdjust="spacingAndGlyphs" stroke="#000" stroke-width="0.12">SDMA</text>
<rect x="30.5" y="260.1" width="9.3" height="45.3" fill="#fff" stroke="#000000" stroke-width="0.85"/>
<line x1="35.1" y1="251.9" x2="35.1" y2="267.7" stroke="#888" stroke-width="0.5"/>
<line x1="32.9" y1="251.9" x2="37.4" y2="251.9" stroke="#888" stroke-width="0.5"/>
<line x1="32.9" y1="267.7" x2="37.4" y2="267.7" stroke="#888" stroke-width="0.5"/>
<circle cx="35.0" cy="246.6" r="1.3" fill="#000000"/>
<circle cx="35.0" cy="259.6" r="1.3" fill="#000000"/>
<circle cx="32.9" cy="262.4" r="1.3" fill="#000000"/>
<circle cx="37.2" cy="264.6" r="1.3" fill="#000000"/>
<circle cx="33.3" cy="265.9" r="1.3" fill="#000000"/>
<rect x="45.6" y="292.6" width="10.0" height="12.8" fill="#fff" stroke="#0000ff" stroke-width="0.85"/>
<line x1="50.6" y1="289.6" x2="50.6" y2="295.8" stroke="#0000ff" stroke-width="0.5"/>
<line x1="48.4" y1="289.6" x2="52.8" y2="289.6" stroke="#0000ff" stroke-width="0.5"/>
<line x1="48.4" y1="295.8" x2="52.8" y2="295.8" stroke="#0000ff" stroke-width="0.5"/>
<circle cx="48.5" cy="288.9" r="1.3" fill="#0000ff"/>
<circle cx="52.0" cy="289.7" r="1.3" fill="#0000ff"/>
<circle cx="47.8" cy="292.9" r="1.3" fill="#0000ff"/>
<circle cx="52.7" cy="293.4" r="1.3" fill="#0000ff"/>
<circle cx="50.2" cy="296.6" r="1.3" fill="#0000ff"/>
<rect x="60.5" y="279.7" width="10.3" height="25.7" fill="#fff" stroke="#ff0000" stroke-width="0.85"/>
<line x1="65.7" y1="275.3" x2="65.7" y2="284.0" stroke="#ff0000" stroke-width="0.5"/>
<line x1="63.5" y1="275.3" x2="67.9" y2="275.3" stroke="#ff0000" stroke-width="0.5"/>
<line x1="63.5" y1="284.0" x2="67.9" y2="284.0" stroke="#ff0000" stroke-width="0.5"/>
<circle cx="63.6" cy="274.4" r="1.3" fill="#ff0000"/>
<circle cx="67.3" cy="274.4" r="1.3" fill="#ff0000"/>
<circle cx="65.5" cy="279.2" r="1.3" fill="#ff0000"/>
<circle cx="63.6" cy="285.5" r="1.3" fill="#ff0000"/>
<circle cx="67.3" cy="283.4" r="1.3" fill="#ff0000"/>
<line x1="24.6" y1="223.6" x2="24.6" y2="305.8" stroke="#222" stroke-width="0.8"/>
<line x1="24.6" y1="305.4" x2="75.8" y2="305.4" stroke="#222" stroke-width="0.8"/>
<line x1="50.4" y1="305.4" x2="50.4" y2="307.4" stroke="#000" stroke-width="0.5"/>
<line x1="22.6" y1="305.4" x2="24.6" y2="305.4" stroke="#000" stroke-width="0.5"/>
<text x="21.6" y="308.8" font-size="5.7" text-anchor="end" stroke="#000" stroke-width="0.07">0</text>
<line x1="22.6" y1="291.8" x2="24.6" y2="291.8" stroke="#000" stroke-width="0.5"/>
<text x="21.6" y="294.1" font-size="5.7" text-anchor="end" stroke="#000" stroke-width="0.07">250</text>
<line x1="22.6" y1="278.2" x2="24.6" y2="278.2" stroke="#000" stroke-width="0.5"/>
<text x="21.6" y="280.5" font-size="5.7" text-anchor="end" stroke="#000" stroke-width="0.07">500</text>
<line x1="22.6" y1="264.6" x2="24.6" y2="264.6" stroke="#000" stroke-width="0.5"/>
<text x="21.6" y="266.9" font-size="5.7" text-anchor="end" stroke="#000" stroke-width="0.07">750</text>
<line x1="22.6" y1="251.1" x2="24.6" y2="251.1" stroke="#000" stroke-width="0.5"/>
<text x="21.6" y="253.3" font-size="5.7" text-anchor="end" stroke="#000" stroke-width="0.07">1,000</text>
<line x1="22.6" y1="237.5" x2="24.6" y2="237.5" stroke="#000" stroke-width="0.5"/>
<text x="21.6" y="239.7" font-size="5.7" text-anchor="end" stroke="#000" stroke-width="0.07">1,250</text>
<line x1="22.6" y1="223.9" x2="24.6" y2="223.9" stroke="#000" stroke-width="0.5"/>
<text x="21.6" y="226.2" font-size="5.7" text-anchor="end" stroke="#000" stroke-width="0.07">1,500</text>
<text x="5.8" y="265.3" font-size="5.7" text-anchor="middle" textLength="28.3" lengthAdjust="spacingAndGlyphs" transform="rotate(-90 5.8 265.3)" stroke="#000" stroke-width="0.07">MFI SDMA</text>
<line x1="31.0" y1="228.5" x2="71.7" y2="228.5" stroke="#444" stroke-width="0.9"/>
<text x="52.3" y="228.4" font-size="5.5" text-anchor="middle" fill="#111" letter-spacing="0.74" stroke="#111" stroke-width="0.22">***</text>
<line x1="31.0" y1="236.9" x2="54.3" y2="236.9" stroke="#444" stroke-width="0.9"/>
<text x="46.0" y="237.1" font-size="5.5" text-anchor="middle" fill="#111" letter-spacing="0.74" stroke="#111" stroke-width="0.22">****</text>
<line x1="45.1" y1="267.8" x2="68.6" y2="267.8" stroke="#444" stroke-width="0.9"/>
<text x="58.4" y="267.1" font-size="5.5" text-anchor="middle" fill="#111" letter-spacing="0.74" stroke="#111" stroke-width="0.22">**</text>
<line x1="49.3" y1="271.7" x2="49.3" y2="282.0" stroke="#111" stroke-width="0.9"/>
<polygon points="47.5,280.7 51.1,280.7 49.3,283.9" fill="#111"/>
<text x="50.7" y="277.3" font-size="5.3" textLength="10.3" lengthAdjust="spacingAndGlyphs" stroke="#000" stroke-width="0.07">71%</text>
<line x1="70.5" y1="263.1" x2="70.5" y2="273.5" stroke="#111" stroke-width="0.9"/>
<polygon points="68.7,272.2 72.3,272.2 70.5,275.4" fill="#111"/>
<text x="71.8" y="268.9" font-size="5.3" textLength="10.6" lengthAdjust="spacingAndGlyphs" stroke="#000" stroke-width="0.07">43%</text>
<text x="140.1" y="212.3" font-size="8" text-anchor="middle" textLength="24.4" lengthAdjust="spacingAndGlyphs" stroke="#000" stroke-width="0.12">γH2AX</text>
<rect x="119.3" y="282.0" width="9.8" height="23.4" fill="#fff" stroke="#000000" stroke-width="0.85"/>
<circle cx="121.8" cy="280.5" r="1.3" fill="#000000"/>
<circle cx="124.3" cy="281.5" r="1.3" fill="#000000"/>
<circle cx="126.9" cy="280.5" r="1.3" fill="#000000"/>
<circle cx="120.6" cy="282.0" r="1.3" fill="#000000"/>
<circle cx="128.4" cy="282.0" r="1.3" fill="#000000"/>
<rect x="134.2" y="244.2" width="10.1" height="61.2" fill="#fff" stroke="#0000ff" stroke-width="0.85"/>
<line x1="139.2" y1="237.0" x2="139.2" y2="253.4" stroke="#0000ff" stroke-width="0.5"/>
<line x1="137.1" y1="237.0" x2="141.4" y2="237.0" stroke="#0000ff" stroke-width="0.5"/>
<line x1="137.1" y1="253.4" x2="141.4" y2="253.4" stroke="#0000ff" stroke-width="0.5"/>
<circle cx="139.2" cy="234.1" r="1.3" fill="#0000ff"/>
<circle cx="137.2" cy="237.6" r="1.3" fill="#0000ff"/>
<circle cx="141.4" cy="237.6" r="1.3" fill="#0000ff"/>
<circle cx="139.2" cy="252.1" r="1.3" fill="#0000ff"/>
<circle cx="139.2" cy="256.3" r="1.3" fill="#0000ff"/>
<rect x="149.6" y="279.5" width="10.0" height="25.9" fill="#fff" stroke="#ff0000" stroke-width="0.85"/>
<line x1="154.6" y1="274.8" x2="154.6" y2="284.0" stroke="#ff0000" stroke-width="0.5"/>
<line x1="152.4" y1="274.8" x2="156.8" y2="274.8" stroke="#ff0000" stroke-width="0.5"/>
<line x1="152.4" y1="284.0" x2="156.8" y2="284.0" stroke="#ff0000" stroke-width="0.5"/>
<circle cx="154.6" cy="272.6" r="1.3" fill="#ff0000"/>
<circle cx="158.6" cy="277.9" r="1.3" fill="#ff0000"/>
<circle cx="150.8" cy="282.4" r="1.3" fill="#ff0000"/>
<circle cx="154.6" cy="280.5" r="1.3" fill="#ff0000"/>
<circle cx="158.1" cy="282.4" r="1.3" fill="#ff0000"/>
<line x1="112.5" y1="223.6" x2="112.5" y2="305.8" stroke="#222" stroke-width="0.8"/>
<line x1="112.5" y1="305.4" x2="164.4" y2="305.4" stroke="#222" stroke-width="0.8"/>
<line x1="139.2" y1="305.4" x2="139.2" y2="307.4" stroke="#000" stroke-width="0.5"/>
<line x1="110.5" y1="305.4" x2="112.5" y2="305.4" stroke="#000" stroke-width="0.5"/>
<text x="109.5" y="308.8" font-size="5.7" text-anchor="end" stroke="#000" stroke-width="0.07">0</text>
<line x1="110.5" y1="278.2" x2="112.5" y2="278.2" stroke="#000" stroke-width="0.5"/>
<text x="109.5" y="280.5" font-size="5.7" text-anchor="end" stroke="#000" stroke-width="0.07">1,000</text>
<line x1="110.5" y1="251.1" x2="112.5" y2="251.1" stroke="#000" stroke-width="0.5"/>
<text x="109.5" y="253.3" font-size="5.7" text-anchor="end" stroke="#000" stroke-width="0.07">2,000</text>
<line x1="110.5" y1="223.9" x2="112.5" y2="223.9" stroke="#000" stroke-width="0.5"/>
<text x="109.5" y="226.2" font-size="5.7" text-anchor="end" stroke="#000" stroke-width="0.07">3,000</text>
<text x="91.6" y="265.3" font-size="5.7" text-anchor="middle" textLength="28.3" lengthAdjust="spacingAndGlyphs" transform="rotate(-90 91.6 265.3)" stroke="#000" stroke-width="0.07">MFI γH2AX</text>
<line x1="120.3" y1="222.1" x2="160.6" y2="222.1" stroke="#666" stroke-width="0.9"/>
<text x="141.2" y="220.6" font-size="4.3" text-anchor="middle" fill="#333" stroke="#333" stroke-width="0.05">NS</text>
<line x1="120.3" y1="228.6" x2="143.0" y2="228.6" stroke="#444" stroke-width="0.9"/>
<text x="132.0" y="228.6" font-size="5.5" text-anchor="middle" fill="#111" letter-spacing="0.74" stroke="#111" stroke-width="0.22">****</text>
<line x1="137.6" y1="231.2" x2="160.6" y2="231.2" stroke="#444" stroke-width="0.9"/>
<text x="152.5" y="231.6" font-size="5.5" text-anchor="middle" fill="#111" letter-spacing="0.74" stroke="#111" stroke-width="0.22">****</text>
<line x1="146.4" y1="271.9" x2="146.4" y2="255.9" stroke="#111" stroke-width="0.9"/>
<polygon points="144.6,257.2 148.2,257.2 146.4,254.0" fill="#111"/>
<text x="147.7" y="266.6" font-size="5.3" textLength="11.3" lengthAdjust="spacingAndGlyphs" stroke="#000" stroke-width="0.07">2.6X</text>
<line x1="163.4" y1="292.4" x2="163.4" y2="285.1" stroke="#111" stroke-width="0.9"/>
<polygon points="161.6,286.4 165.2,286.4 163.4,283.2" fill="#111"/>
<text x="165.3" y="292.4" font-size="5.3" textLength="11.0" lengthAdjust="spacingAndGlyphs" stroke="#000" stroke-width="0.07">1.1X</text>
<text x="232.0" y="212.3" font-size="8" text-anchor="middle" textLength="23.2" lengthAdjust="spacingAndGlyphs" stroke="#000" stroke-width="0.12">SDMA</text>
<rect x="206.6" y="249.5" width="10.1" height="55.9" fill="#fff" stroke="#000000" stroke-width="0.85"/>
<line x1="211.6" y1="243.5" x2="211.6" y2="254.4" stroke="#888" stroke-width="0.5"/>
<line x1="209.4" y1="243.5" x2="213.8" y2="243.5" stroke="#888" stroke-width="0.5"/>
<line x1="209.4" y1="254.4" x2="213.8" y2="254.4" stroke="#888" stroke-width="0.5"/>
<circle cx="211.5" cy="244.0" r="1.3" fill="#000000"/>
<circle cx="207.5" cy="246.0" r="1.3" fill="#000000"/>
<circle cx="215.6" cy="246.0" r="1.3" fill="#000000"/>
<circle cx="211.5" cy="252.1" r="1.3" fill="#000000"/>
<circle cx="211.5" cy="257.5" r="1.3" fill="#000000"/>
<rect x="222.5" y="293.7" width="10.2" height="11.7" fill="#fff" stroke="#0000ff" stroke-width="0.85"/>
<line x1="227.6" y1="290.8" x2="227.6" y2="296.2" stroke="#0000ff" stroke-width="0.5"/>
<line x1="225.4" y1="290.8" x2="229.8" y2="290.8" stroke="#0000ff" stroke-width="0.5"/>
<line x1="225.4" y1="296.2" x2="229.8" y2="296.2" stroke="#0000ff" stroke-width="0.5"/>
<circle cx="227.3" cy="289.6" r="1.3" fill="#0000ff"/>
<circle cx="224.2" cy="294.2" r="1.3" fill="#0000ff"/>
<circle cx="227.3" cy="294.0" r="1.3" fill="#0000ff"/>
<circle cx="230.2" cy="294.2" r="1.3" fill="#0000ff"/>
<circle cx="226.0" cy="295.4" r="1.3" fill="#0000ff"/>
<rect x="238.1" y="280.4" width="10.4" height="25.0" fill="#fff" stroke="#ff0000" stroke-width="0.85"/>
<line x1="243.3" y1="274.4" x2="243.3" y2="286.0" stroke="#ff0000" stroke-width="0.5"/>
<line x1="241.1" y1="274.4" x2="245.5" y2="274.4" stroke="#ff0000" stroke-width="0.5"/>
<line x1="241.1" y1="286.0" x2="245.5" y2="286.0" stroke="#ff0000" stroke-width="0.5"/>
<circle cx="243.0" cy="271.2" r="1.3" fill="#ff0000"/>
<circle cx="240.4" cy="280.2" r="1.3" fill="#ff0000"/>
<circle cx="246.7" cy="280.2" r="1.3" fill="#ff0000"/>
<circle cx="241.5" cy="284.1" r="1.3" fill="#ff0000"/>
<circle cx="244.8" cy="283.6" r="1.3" fill="#ff0000"/>
<circle cx="243.8" cy="279.8" r="1.3" fill="#ff0000"/>
<line x1="200.6" y1="223.9" x2="200.6" y2="305.8" stroke="#222" stroke-width="0.8"/>
<line x1="200.6" y1="305.4" x2="253.1" y2="305.4" stroke="#222" stroke-width="0.8"/>
<line x1="227.4" y1="305.4" x2="227.4" y2="307.4" stroke="#000" stroke-width="0.5"/>
<line x1="198.6" y1="305.4" x2="200.6" y2="305.4" stroke="#000" stroke-width="0.5"/>
<text x="197.6" y="308.8" font-size="5.7" text-anchor="end" stroke="#000" stroke-width="0.07">0</text>
<line x1="198.6" y1="291.9" x2="200.6" y2="291.9" stroke="#000" stroke-width="0.5"/>
<text x="197.6" y="294.1" font-size="5.7" text-anchor="end" stroke="#000" stroke-width="0.07">250</text>
<line x1="198.6" y1="278.3" x2="200.6" y2="278.3" stroke="#000" stroke-width="0.5"/>
<text x="197.6" y="280.6" font-size="5.7" text-anchor="end" stroke="#000" stroke-width="0.07">500</text>
<line x1="198.6" y1="264.8" x2="200.6" y2="264.8" stroke="#000" stroke-width="0.5"/>
<text x="197.6" y="267.1" font-size="5.7" text-anchor="end" stroke="#000" stroke-width="0.07">750</text>
<line x1="198.6" y1="251.3" x2="200.6" y2="251.3" stroke="#000" stroke-width="0.5"/>
<text x="197.6" y="253.5" font-size="5.7" text-anchor="end" stroke="#000" stroke-width="0.07">1,000</text>
<line x1="198.6" y1="237.7" x2="200.6" y2="237.7" stroke="#000" stroke-width="0.5"/>
<text x="197.6" y="240.0" font-size="5.7" text-anchor="end" stroke="#000" stroke-width="0.07">1,250</text>
<line x1="198.6" y1="224.2" x2="200.6" y2="224.2" stroke="#000" stroke-width="0.5"/>
<text x="197.6" y="226.5" font-size="5.7" text-anchor="end" stroke="#000" stroke-width="0.07">1,500</text>
<text x="180.8" y="265.3" font-size="5.7" text-anchor="middle" textLength="28.3" lengthAdjust="spacingAndGlyphs" transform="rotate(-90 180.8 265.3)" stroke="#000" stroke-width="0.07">MFI SDMA</text>
<line x1="207.8" y1="229.2" x2="249.3" y2="229.2" stroke="#444" stroke-width="0.9"/>
<text x="230.9" y="229.1" font-size="5.5" text-anchor="middle" fill="#111" letter-spacing="0.74" stroke="#111" stroke-width="0.22">****</text>
<line x1="207.8" y1="237.5" x2="231.2" y2="237.5" stroke="#444" stroke-width="0.9"/>
<text x="222.8" y="237.6" font-size="5.5" text-anchor="middle" fill="#111" letter-spacing="0.74" stroke="#111" stroke-width="0.22">****</text>
<line x1="222.2" y1="268.3" x2="246.2" y2="268.3" stroke="#444" stroke-width="0.9"/>
<text x="235.9" y="267.6" font-size="5.5" text-anchor="middle" fill="#111" letter-spacing="0.74" stroke="#111" stroke-width="0.22">**</text>
<line x1="226.5" y1="272.3" x2="226.5" y2="282.5" stroke="#111" stroke-width="0.9"/>
<polygon points="224.7,281.2 228.3,281.2 226.5,284.4" fill="#111"/>
<text x="228.0" y="278.0" font-size="5.3" textLength="10.1" lengthAdjust="spacingAndGlyphs" stroke="#000" stroke-width="0.07">79%</text>
<line x1="242.9" y1="254.1" x2="242.9" y2="264.1" stroke="#111" stroke-width="0.9"/>
<polygon points="241.1,262.8 244.7,262.8 242.9,266.0" fill="#111"/>
<text x="243.8" y="259.8" font-size="5.3" textLength="10.7" lengthAdjust="spacingAndGlyphs" stroke="#000" stroke-width="0.07">54%</text>
<text x="315.2" y="212.3" font-size="8" text-anchor="middle" textLength="24.6" lengthAdjust="spacingAndGlyphs" stroke="#000" stroke-width="0.12">γH2AX</text>
<rect x="293.7" y="290.2" width="10.5" height="15.2" fill="#fff" stroke="#000000" stroke-width="0.85"/>
<line x1="298.9" y1="288.0" x2="298.9" y2="292.6" stroke="#888" stroke-width="0.5"/>
<line x1="296.8" y1="288.0" x2="301.1" y2="288.0" stroke="#888" stroke-width="0.5"/>
<line x1="296.8" y1="292.6" x2="301.1" y2="292.6" stroke="#888" stroke-width="0.5"/>
<circle cx="303.1" cy="287.8" r="1.3" fill="#000000"/>
<circle cx="294.5" cy="290.2" r="1.3" fill="#000000"/>
<circle cx="298.1" cy="289.9" r="1.3" fill="#000000"/>
<circle cx="301.5" cy="290.9" r="1.3" fill="#000000"/>
<circle cx="303.5" cy="291.5" r="1.3" fill="#000000"/>
<rect x="309.5" y="259.5" width="10.1" height="45.9" fill="#fff" stroke="#0000ff" stroke-width="0.85"/>
<line x1="314.6" y1="242.2" x2="314.6" y2="274.0" stroke="#0000ff" stroke-width="0.5"/>
<line x1="312.4" y1="242.2" x2="316.8" y2="242.2" stroke="#0000ff" stroke-width="0.5"/>
<line x1="312.4" y1="274.0" x2="316.8" y2="274.0" stroke="#0000ff" stroke-width="0.5"/>
<circle cx="312.2" cy="242.4" r="1.3" fill="#0000ff"/>
<circle cx="316.7" cy="242.4" r="1.3" fill="#0000ff"/>
<circle cx="310.2" cy="271.1" r="1.3" fill="#0000ff"/>
<circle cx="314.5" cy="269.3" r="1.3" fill="#0000ff"/>
<circle cx="319.0" cy="269.7" r="1.3" fill="#0000ff"/>
<rect x="325.4" y="287.8" width="10.1" height="17.6" fill="#fff" stroke="#ff0000" stroke-width="0.85"/>
<line x1="330.4" y1="285.5" x2="330.4" y2="289.8" stroke="#ff0000" stroke-width="0.5"/>
<line x1="328.2" y1="285.5" x2="332.6" y2="285.5" stroke="#ff0000" stroke-width="0.5"/>
<line x1="328.2" y1="289.8" x2="332.6" y2="289.8" stroke="#ff0000" stroke-width="0.5"/>
<circle cx="326.4" cy="285.5" r="1.3" fill="#ff0000"/>
<circle cx="334.4" cy="285.5" r="1.3" fill="#ff0000"/>
<circle cx="328.4" cy="287.9" r="1.3" fill="#ff0000"/>
<circle cx="330.8" cy="287.9" r="1.3" fill="#ff0000"/>
<circle cx="333.8" cy="288.2" r="1.3" fill="#ff0000"/>
<line x1="287.5" y1="224.4" x2="287.5" y2="305.8" stroke="#222" stroke-width="0.8"/>
<line x1="287.5" y1="305.4" x2="340.6" y2="305.4" stroke="#222" stroke-width="0.8"/>
<line x1="314.7" y1="305.4" x2="314.7" y2="307.4" stroke="#000" stroke-width="0.5"/>
<line x1="285.5" y1="305.4" x2="287.5" y2="305.4" stroke="#000" stroke-width="0.5"/>
<text x="284.5" y="308.8" font-size="5.7" text-anchor="end" stroke="#000" stroke-width="0.07">0</text>
<line x1="285.5" y1="285.2" x2="287.5" y2="285.2" stroke="#000" stroke-width="0.5"/>
<text x="284.5" y="287.5" font-size="5.7" text-anchor="end" stroke="#000" stroke-width="0.07">1,000</text>
<line x1="285.5" y1="265.0" x2="287.5" y2="265.0" stroke="#000" stroke-width="0.5"/>
<text x="284.5" y="267.3" font-size="5.7" text-anchor="end" stroke="#000" stroke-width="0.07">2,000</text>
<line x1="285.5" y1="244.9" x2="287.5" y2="244.9" stroke="#000" stroke-width="0.5"/>
<text x="284.5" y="247.1" font-size="5.7" text-anchor="end" stroke="#000" stroke-width="0.07">3,000</text>
<line x1="285.5" y1="224.7" x2="287.5" y2="224.7" stroke="#000" stroke-width="0.5"/>
<text x="284.5" y="227.0" font-size="5.7" text-anchor="end" stroke="#000" stroke-width="0.07">4,000</text>
<text x="266.6" y="265.3" font-size="5.7" text-anchor="middle" textLength="28.3" lengthAdjust="spacingAndGlyphs" transform="rotate(-90 266.6 265.3)" stroke="#000" stroke-width="0.07">MFI γH2AX</text>
<line x1="294.8" y1="229.7" x2="336.9" y2="229.7" stroke="#444" stroke-width="0.9"/>
<text x="317.2" y="228.1" font-size="5.4" text-anchor="middle" fill="#111" stroke="#111" stroke-width="0.07">NS</text>
<line x1="294.8" y1="236.2" x2="317.5" y2="236.2" stroke="#444" stroke-width="0.9"/>
<text x="308.3" y="236.3" font-size="5.5" text-anchor="middle" fill="#111" letter-spacing="0.74" stroke="#111" stroke-width="0.22">***</text>
<line x1="313.3" y1="238.4" x2="336.5" y2="238.4" stroke="#444" stroke-width="0.9"/>
<text x="327.2" y="239.0" font-size="5.5" text-anchor="middle" fill="#111" letter-spacing="0.74" stroke="#111" stroke-width="0.22">***</text>
<line x1="321.6" y1="272.4" x2="321.6" y2="256.4" stroke="#111" stroke-width="0.9"/>
<polygon points="319.8,257.7 323.4,257.7 321.6,254.5" fill="#111"/>
<text x="323.3" y="266.5" font-size="5.3" textLength="11.8" lengthAdjust="spacingAndGlyphs" stroke="#000" stroke-width="0.07">3.2X</text>
<line x1="339.4" y1="292.6" x2="339.4" y2="286.0" stroke="#111" stroke-width="0.9"/>
<polygon points="337.6,287.3 341.2,287.3 339.4,284.1" fill="#111"/>
<text x="341.6" y="291.4" font-size="5.3" textLength="10.3" lengthAdjust="spacingAndGlyphs" stroke="#000" stroke-width="0.07">1.2X</text>
<text x="406.5" y="212.3" font-size="8" text-anchor="middle" textLength="23.2" lengthAdjust="spacingAndGlyphs" stroke="#000" stroke-width="0.12">SDMA</text>
<rect x="383.4" y="255.7" width="9.8" height="49.7" fill="#fff" stroke="#000000" stroke-width="0.85"/>
<line x1="388.3" y1="242.5" x2="388.3" y2="267.8" stroke="#888" stroke-width="0.5"/>
<line x1="386.1" y1="242.5" x2="390.5" y2="242.5" stroke="#888" stroke-width="0.5"/>
<line x1="386.1" y1="267.8" x2="390.5" y2="267.8" stroke="#888" stroke-width="0.5"/>
<circle cx="388.1" cy="238.5" r="1.3" fill="#000000"/>
<circle cx="390.1" cy="251.9" r="1.3" fill="#000000"/>
<circle cx="386.1" cy="253.9" r="1.3" fill="#000000"/>
<circle cx="388.1" cy="258.6" r="1.3" fill="#000000"/>
<circle cx="388.1" cy="273.2" r="1.3" fill="#000000"/>
<rect x="398.6" y="266.0" width="10.1" height="39.4" fill="#fff" stroke="#0000ff" stroke-width="0.85"/>
<line x1="403.6" y1="258.3" x2="403.6" y2="273.4" stroke="#0000ff" stroke-width="0.5"/>
<line x1="401.4" y1="258.3" x2="405.8" y2="258.3" stroke="#0000ff" stroke-width="0.5"/>
<line x1="401.4" y1="273.4" x2="405.8" y2="273.4" stroke="#0000ff" stroke-width="0.5"/>
<circle cx="403.6" cy="258.0" r="1.3" fill="#0000ff"/>
<circle cx="403.6" cy="261.3" r="1.3" fill="#0000ff"/>
<circle cx="400.6" cy="267.4" r="1.3" fill="#0000ff"/>
<circle cx="406.7" cy="267.4" r="1.3" fill="#0000ff"/>
<circle cx="403.6" cy="273.5" r="1.3" fill="#0000ff"/>
<rect x="414.1" y="287.6" width="10.4" height="17.8" fill="#fff" stroke="#ff0000" stroke-width="0.85"/>
<circle cx="416.0" cy="286.8" r="1.3" fill="#ff0000"/>
<circle cx="418.2" cy="287.6" r="1.3" fill="#ff0000"/>
<circle cx="420.2" cy="286.8" r="1.3" fill="#ff0000"/>
<circle cx="422.3" cy="287.6" r="1.3" fill="#ff0000"/>
<circle cx="423.9" cy="287.0" r="1.3" fill="#ff0000"/>
<line x1="377.5" y1="224.4" x2="377.5" y2="305.8" stroke="#222" stroke-width="0.8"/>
<line x1="377.5" y1="305.4" x2="430.2" y2="305.4" stroke="#222" stroke-width="0.8"/>
<line x1="403.5" y1="305.4" x2="403.5" y2="307.4" stroke="#000" stroke-width="0.5"/>
<line x1="375.5" y1="305.4" x2="377.5" y2="305.4" stroke="#000" stroke-width="0.5"/>
<text x="374.5" y="308.8" font-size="5.7" text-anchor="end" stroke="#000" stroke-width="0.07">0</text>
<line x1="375.5" y1="291.9" x2="377.5" y2="291.9" stroke="#000" stroke-width="0.5"/>
<text x="374.5" y="294.2" font-size="5.7" text-anchor="end" stroke="#000" stroke-width="0.07">500</text>
<line x1="375.5" y1="278.5" x2="377.5" y2="278.5" stroke="#000" stroke-width="0.5"/>
<text x="374.5" y="280.8" font-size="5.7" text-anchor="end" stroke="#000" stroke-width="0.07">1,000</text>
<line x1="375.5" y1="265.0" x2="377.5" y2="265.0" stroke="#000" stroke-width="0.5"/>
<text x="374.5" y="267.3" font-size="5.7" text-anchor="end" stroke="#000" stroke-width="0.07">1,500</text>
<line x1="375.5" y1="251.6" x2="377.5" y2="251.6" stroke="#000" stroke-width="0.5"/>
<text x="374.5" y="253.9" font-size="5.7" text-anchor="end" stroke="#000" stroke-width="0.07">2,000</text>
<line x1="375.5" y1="238.1" x2="377.5" y2="238.1" stroke="#000" stroke-width="0.5"/>
<text x="374.5" y="240.4" font-size="5.7" text-anchor="end" stroke="#000" stroke-width="0.07">2,500</text>
<line x1="375.5" y1="224.7" x2="377.5" y2="224.7" stroke="#000" stroke-width="0.5"/>
<text x="374.5" y="227.0" font-size="5.7" text-anchor="end" stroke="#000" stroke-width="0.07">3,000</text>
<text x="355.9" y="265.3" font-size="5.7" text-anchor="middle" textLength="28.3" lengthAdjust="spacingAndGlyphs" transform="rotate(-90 355.9 265.3)" stroke="#000" stroke-width="0.07">MFI SDMA</text>
<line x1="384.1" y1="229.3" x2="425.8" y2="229.3" stroke="#444" stroke-width="0.9"/>
<text x="405.3" y="229.4" font-size="5.5" text-anchor="middle" fill="#111" letter-spacing="0.74" stroke="#111" stroke-width="0.22">***</text>
<line x1="384.1" y1="235.2" x2="407.9" y2="235.2" stroke="#444" stroke-width="0.9"/>
<text x="395.9" y="234.8" font-size="5.4" text-anchor="middle" fill="#111" stroke="#111" stroke-width="0.07">NS</text>
<line x1="400.0" y1="256.9" x2="423.4" y2="256.9" stroke="#444" stroke-width="0.9"/>
<text x="411.7" y="256.7" font-size="5.5" text-anchor="middle" fill="#111" letter-spacing="0.74" stroke="#111" stroke-width="0.22">***</text>
<line x1="411.4" y1="259.7" x2="411.4" y2="269.5" stroke="#111" stroke-width="0.9"/>
<polygon points="409.6,268.2 413.2,268.2 411.4,271.4" fill="#111"/>
<text x="413.0" y="267.0" font-size="5.3" textLength="11.2" lengthAdjust="spacingAndGlyphs" stroke="#000" stroke-width="0.07">21%</text>
<line x1="428.8" y1="281.3" x2="428.8" y2="291.1" stroke="#111" stroke-width="0.9"/>
<polygon points="427.0,289.8 430.6,289.8 428.8,293.0" fill="#111"/>
<text x="430.5" y="289.5" font-size="5.3" textLength="11.2" lengthAdjust="spacingAndGlyphs" stroke="#000" stroke-width="0.07">64%</text>
<text x="488.6" y="212.3" font-size="8" text-anchor="middle" textLength="23.9" lengthAdjust="spacingAndGlyphs" stroke="#000" stroke-width="0.12">γH2AX</text>
<rect x="472.4" y="285.0" width="10.5" height="20.4" fill="#fff" stroke="#000000" stroke-width="0.85"/>
<line x1="477.6" y1="282.0" x2="477.6" y2="288.0" stroke="#888" stroke-width="0.5"/>
<line x1="475.4" y1="282.0" x2="479.8" y2="282.0" stroke="#888" stroke-width="0.5"/>
<line x1="475.4" y1="288.0" x2="479.8" y2="288.0" stroke="#888" stroke-width="0.5"/>
<circle cx="475.7" cy="281.4" r="1.3" fill="#000000"/>
<circle cx="479.7" cy="281.4" r="1.3" fill="#000000"/>
<circle cx="474.3" cy="285.7" r="1.3" fill="#000000"/>
<circle cx="477.9" cy="286.0" r="1.3" fill="#000000"/>
<circle cx="481.4" cy="285.7" r="1.3" fill="#000000"/>
<rect x="488.3" y="277.1" width="10.6" height="28.3" fill="#fff" stroke="#0000ff" stroke-width="0.85"/>
<line x1="493.6" y1="273.0" x2="493.6" y2="281.2" stroke="#0000ff" stroke-width="0.5"/>
<line x1="491.4" y1="273.0" x2="495.8" y2="273.0" stroke="#0000ff" stroke-width="0.5"/>
<line x1="491.4" y1="281.2" x2="495.8" y2="281.2" stroke="#0000ff" stroke-width="0.5"/>
<circle cx="491.4" cy="272.9" r="1.3" fill="#0000ff"/>
<circle cx="495.4" cy="272.9" r="1.3" fill="#0000ff"/>
<circle cx="493.6" cy="276.4" r="1.3" fill="#0000ff"/>
<circle cx="493.6" cy="279.3" r="1.3" fill="#0000ff"/>
<circle cx="493.6" cy="282.1" r="1.3" fill="#0000ff"/>
<rect x="504.3" y="250.4" width="10.4" height="55.0" fill="#fff" stroke="#ff0000" stroke-width="0.85"/>
<line x1="509.5" y1="241.4" x2="509.5" y2="260.0" stroke="#ff0000" stroke-width="0.5"/>
<line x1="507.3" y1="241.4" x2="511.7" y2="241.4" stroke="#ff0000" stroke-width="0.5"/>
<line x1="507.3" y1="260.0" x2="511.7" y2="260.0" stroke="#ff0000" stroke-width="0.5"/>
<circle cx="509.3" cy="235.7" r="1.3" fill="#ff0000"/>
<circle cx="509.3" cy="247.9" r="1.3" fill="#ff0000"/>
<circle cx="511.9" cy="257.4" r="1.3" fill="#ff0000"/>
<circle cx="507.1" cy="258.9" r="1.3" fill="#ff0000"/>
<circle cx="510.0" cy="259.3" r="1.3" fill="#ff0000"/>
<line x1="466.6" y1="224.4" x2="466.6" y2="305.8" stroke="#222" stroke-width="0.8"/>
<line x1="466.6" y1="305.4" x2="517.0" y2="305.4" stroke="#222" stroke-width="0.8"/>
<line x1="493.6" y1="305.4" x2="493.6" y2="307.4" stroke="#000" stroke-width="0.5"/>
<line x1="464.6" y1="305.4" x2="466.6" y2="305.4" stroke="#000" stroke-width="0.5"/>
<text x="463.6" y="308.8" font-size="5.7" text-anchor="end" stroke="#000" stroke-width="0.07">0</text>
<line x1="464.6" y1="278.5" x2="466.6" y2="278.5" stroke="#000" stroke-width="0.5"/>
<text x="463.6" y="280.8" font-size="5.7" text-anchor="end" stroke="#000" stroke-width="0.07">1,000</text>
<line x1="464.6" y1="251.6" x2="466.6" y2="251.6" stroke="#000" stroke-width="0.5"/>
<text x="463.6" y="253.9" font-size="5.7" text-anchor="end" stroke="#000" stroke-width="0.07">2,000</text>
<line x1="464.6" y1="224.7" x2="466.6" y2="224.7" stroke="#000" stroke-width="0.5"/>
<text x="463.6" y="227.0" font-size="5.7" text-anchor="end" stroke="#000" stroke-width="0.07">3,000</text>
<text x="446.4" y="265.3" font-size="5.7" text-anchor="middle" textLength="28.3" lengthAdjust="spacingAndGlyphs" transform="rotate(-90 446.4 265.3)" stroke="#000" stroke-width="0.07">MFI γH2AX</text>
<line x1="473.9" y1="226.3" x2="515.7" y2="226.3" stroke="#444" stroke-width="0.9"/>
<text x="498.0" y="225.8" font-size="5.5" text-anchor="middle" fill="#111" letter-spacing="0.74" stroke="#111" stroke-width="0.22">****</text>
<line x1="492.1" y1="233.5" x2="515.7" y2="233.5" stroke="#444" stroke-width="0.9"/>
<text x="507.3" y="233.3" font-size="5.5" text-anchor="middle" fill="#111" letter-spacing="0.74" stroke="#111" stroke-width="0.22">****</text>
<line x1="472.1" y1="266.4" x2="495.7" y2="266.4" stroke="#444" stroke-width="0.9"/>
<text x="483.3" y="265.0" font-size="5.4" text-anchor="middle" fill="#111" stroke="#111" stroke-width="0.07">NS</text>
<text x="474.7" y="277.3" font-size="5.3" textLength="9.6" lengthAdjust="spacingAndGlyphs" stroke="#000" stroke-width="0.07">1.4X</text>
<line x1="486.4" y1="278.6" x2="486.4" y2="272.2" stroke="#111" stroke-width="0.9"/>
<polygon points="484.6,273.5 488.2,273.5 486.4,270.3" fill="#111"/>
<text x="488.3" y="259.8" font-size="5.3" textLength="11.0" lengthAdjust="spacingAndGlyphs" stroke="#000" stroke-width="0.07">2.4X</text>
<line x1="501.0" y1="266.4" x2="501.0" y2="251.2" stroke="#111" stroke-width="0.9"/>
<polygon points="499.2,252.5 502.8,252.5 501.0,249.3" fill="#111"/>
<rect x="130.0" y="315.5" width="244.5" height="19.0" fill="#fff" stroke="#222" stroke-width="0.9"/>
<circle cx="147.5" cy="325.0" r="2.9" fill="#000000"/>
<text x="156.2" y="327.9" font-size="7.8" textLength="25.0" lengthAdjust="spacingAndGlyphs" stroke="#000" stroke-width="0.12">Vehicle</text>
<circle cx="191.7" cy="325.0" r="2.9" fill="#0000ff"/>
<text x="203.2" y="327.9" font-size="7.8" textLength="63.6" lengthAdjust="spacingAndGlyphs" stroke="#000" stroke-width="0.12">LLY-283 30 mg/kg</text>
<circle cx="278.2" cy="325.0" r="2.9" fill="#ff0000"/>
<text x="287.5" y="327.9" font-size="7.8" textLength="71.3" lengthAdjust="spacingAndGlyphs" stroke="#000" stroke-width="0.12">AM-9747 100 mg/kg</text>
<text x="60.0" y="361.9" font-size="7.2" textLength="139.5" lengthAdjust="spacingAndGlyphs" stroke="#000" stroke-width="0.10">% Bone marrow progenitor populations</text>
<circle cx="41.2" cy="383.0" r="2.9" fill="#000000"/>
<text x="49.2" y="385.9" font-size="7.8" textLength="25.0" lengthAdjust="spacingAndGlyphs" stroke="#000" stroke-width="0.12">Vehicle</text>
<circle cx="84.2" cy="383.0" r="2.9" fill="#0000ff"/>
<text x="94.5" y="385.9" font-size="7.8" textLength="63.5" lengthAdjust="spacingAndGlyphs" stroke="#000" stroke-width="0.12">LLY-283 30 mg/kg</text>
<circle cx="168.0" cy="383.0" r="2.9" fill="#ff0000"/>
<text x="176.0" y="385.9" font-size="7.8" textLength="70.5" lengthAdjust="spacingAndGlyphs" stroke="#000" stroke-width="0.12">AM-9747 100 mg/kg</text>
<text x="19.3" y="466.6" font-size="7.6" text-anchor="middle" textLength="46.8" lengthAdjust="spacingAndGlyphs" transform="rotate(-90 19.3 466.6)" stroke="#000" stroke-width="0.11">% population</text>
<rect x="55.1" y="496.2" width="10.9" height="34.1" fill="#fff" stroke="#000000" stroke-width="1.8"/>
<line x1="60.6" y1="486.0" x2="60.6" y2="503.0" stroke="#000000" stroke-width="0.8"/>
<line x1="57.9" y1="486.0" x2="63.3" y2="486.0" stroke="#000000" stroke-width="0.8"/>
<line x1="57.9" y1="503.0" x2="63.3" y2="503.0" stroke="#000000" stroke-width="0.8"/>
<rect x="73.9" y="474.2" width="10.9" height="56.1" fill="#fff" stroke="#0000ff" stroke-width="1.8"/>
<line x1="79.3" y1="466.7" x2="79.3" y2="478.9" stroke="#0000ff" stroke-width="0.8"/>
<line x1="76.6" y1="466.7" x2="82.0" y2="466.7" stroke="#0000ff" stroke-width="0.8"/>
<line x1="76.6" y1="478.9" x2="82.0" y2="478.9" stroke="#0000ff" stroke-width="0.8"/>
<rect x="92.9" y="496.6" width="10.9" height="33.7" fill="#fff" stroke="#ff0000" stroke-width="1.8"/>
<line x1="98.3" y1="488.9" x2="98.3" y2="501.1" stroke="#ff0000" stroke-width="0.8"/>
<line x1="95.6" y1="488.9" x2="101.0" y2="488.9" stroke="#ff0000" stroke-width="0.8"/>
<line x1="95.6" y1="501.1" x2="101.0" y2="501.1" stroke="#ff0000" stroke-width="0.8"/>
<line x1="79.5" y1="530.3" x2="79.5" y2="534.9" stroke="#000" stroke-width="1.2"/>
<text x="79.5" y="544.4" font-size="7.6" text-anchor="middle" stroke="#000" stroke-width="0.11">GMP</text>
<rect x="124.5" y="437.6" width="10.8" height="92.7" fill="#fff" stroke="#000000" stroke-width="1.8"/>
<line x1="129.9" y1="426.5" x2="129.9" y2="444.9" stroke="#000000" stroke-width="0.8"/>
<line x1="127.2" y1="426.5" x2="132.6" y2="426.5" stroke="#000000" stroke-width="0.8"/>
<line x1="127.2" y1="444.9" x2="132.6" y2="444.9" stroke="#000000" stroke-width="0.8"/>
<rect x="143.4" y="467.2" width="10.8" height="63.1" fill="#fff" stroke="#0000ff" stroke-width="1.8"/>
<line x1="148.8" y1="459.0" x2="148.8" y2="471.8" stroke="#0000ff" stroke-width="0.8"/>
<line x1="146.1" y1="459.0" x2="151.5" y2="459.0" stroke="#0000ff" stroke-width="0.8"/>
<line x1="146.1" y1="471.8" x2="151.5" y2="471.8" stroke="#0000ff" stroke-width="0.8"/>
<rect x="162.2" y="442.4" width="10.8" height="87.9" fill="#fff" stroke="#ff0000" stroke-width="1.8"/>
<line x1="167.6" y1="435.5" x2="167.6" y2="444.9" stroke="#ff0000" stroke-width="0.8"/>
<line x1="164.9" y1="435.5" x2="170.3" y2="435.5" stroke="#ff0000" stroke-width="0.8"/>
<line x1="164.9" y1="444.9" x2="170.3" y2="444.9" stroke="#ff0000" stroke-width="0.8"/>
<line x1="148.5" y1="530.3" x2="148.5" y2="534.9" stroke="#000" stroke-width="1.2"/>
<text x="148.5" y="544.4" font-size="7.6" text-anchor="middle" stroke="#000" stroke-width="0.11">MEP</text>
<rect x="212.5" y="523.0" width="11.0" height="7.3" fill="#fff" stroke="#0000ff" stroke-width="1.8"/>
<line x1="217.8" y1="530.3" x2="217.8" y2="534.9" stroke="#000" stroke-width="1.2"/>
<text x="217.0" y="544.4" font-size="7.6" text-anchor="middle" stroke="#000" stroke-width="0.11">CLP</text>
<line x1="48.0" y1="397.0" x2="48.0" y2="531.0" stroke="#000" stroke-width="1.5"/>
<line x1="47.3" y1="530.3" x2="250.6" y2="530.3" stroke="#000" stroke-width="1.5"/>
<circle cx="60.5" cy="482.9" r="2.4" fill="#000000"/>
<circle cx="60.5" cy="488.5" r="2.4" fill="#000000"/>
<circle cx="56.4" cy="497.2" r="2.4" fill="#000000"/>
<circle cx="64.8" cy="500.4" r="2.4" fill="#000000"/>
<circle cx="56.8" cy="503.7" r="2.4" fill="#000000"/>
<circle cx="79.3" cy="463.8" r="2.4" fill="#0000ff"/>
<circle cx="83.6" cy="470.5" r="2.4" fill="#0000ff"/>
<circle cx="75.5" cy="476.2" r="2.4" fill="#0000ff"/>
<circle cx="83.2" cy="475.7" r="2.4" fill="#0000ff"/>
<circle cx="79.3" cy="478.2" r="2.4" fill="#0000ff"/>
<circle cx="98.4" cy="484.5" r="2.4" fill="#ff0000"/>
<circle cx="94.8" cy="497.7" r="2.4" fill="#ff0000"/>
<circle cx="98.4" cy="497.0" r="2.4" fill="#ff0000"/>
<circle cx="102.2" cy="497.7" r="2.4" fill="#ff0000"/>
<circle cx="98.4" cy="499.7" r="2.4" fill="#ff0000"/>
<circle cx="125.5" cy="428.7" r="2.4" fill="#000000"/>
<circle cx="133.8" cy="429.2" r="2.4" fill="#000000"/>
<circle cx="125.8" cy="433.1" r="2.4" fill="#000000"/>
<circle cx="129.8" cy="438.2" r="2.4" fill="#000000"/>
<circle cx="129.8" cy="451.0" r="2.4" fill="#000000"/>
<circle cx="148.6" cy="456.6" r="2.4" fill="#0000ff"/>
<circle cx="144.3" cy="463.7" r="2.4" fill="#0000ff"/>
<circle cx="153.1" cy="463.7" r="2.4" fill="#0000ff"/>
<circle cx="148.6" cy="469.1" r="2.4" fill="#0000ff"/>
<circle cx="148.6" cy="474.5" r="2.4" fill="#0000ff"/>
<circle cx="167.8" cy="432.8" r="2.4" fill="#ff0000"/>
<circle cx="171.9" cy="437.5" r="2.4" fill="#ff0000"/>
<circle cx="163.5" cy="440.9" r="2.4" fill="#ff0000"/>
<circle cx="172.2" cy="441.5" r="2.4" fill="#ff0000"/>
<circle cx="167.8" cy="447.9" r="2.4" fill="#ff0000"/>
<circle cx="197.4" cy="525.0" r="2.4" fill="#000000"/>
<circle cx="201.8" cy="525.0" r="2.4" fill="#000000"/>
<circle cx="195.6" cy="527.9" r="2.4" fill="#000000"/>
<circle cx="199.5" cy="527.9" r="2.4" fill="#000000"/>
<circle cx="203.4" cy="527.9" r="2.4" fill="#000000"/>
<circle cx="213.7" cy="519.3" r="2.4" fill="#0000ff"/>
<circle cx="215.2" cy="525.5" r="2.4" fill="#0000ff"/>
<circle cx="218.2" cy="526.5" r="2.4" fill="#0000ff"/>
<circle cx="221.0" cy="525.5" r="2.4" fill="#0000ff"/>
<circle cx="222.6" cy="527.0" r="2.4" fill="#0000ff"/>
<circle cx="234.5" cy="525.2" r="2.4" fill="#ff0000"/>
<circle cx="239.5" cy="525.2" r="2.4" fill="#ff0000"/>
<circle cx="232.7" cy="527.6" r="2.4" fill="#ff0000"/>
<circle cx="237.0" cy="527.8" r="2.4" fill="#ff0000"/>
<circle cx="241.4" cy="527.6" r="2.4" fill="#ff0000"/>
<line x1="43.5" y1="530.3" x2="48.0" y2="530.3" stroke="#000" stroke-width="1.2"/>
<text x="40.2" y="533.1" font-size="7.3" text-anchor="end" stroke="#000" stroke-width="0.11">0</text>
<line x1="43.5" y1="503.8" x2="48.0" y2="503.8" stroke="#000" stroke-width="1.2"/>
<text x="40.2" y="506.6" font-size="7.3" text-anchor="end" stroke="#000" stroke-width="0.11">20</text>
<line x1="43.5" y1="477.3" x2="48.0" y2="477.3" stroke="#000" stroke-width="1.2"/>
<text x="40.2" y="480.1" font-size="7.3" text-anchor="end" stroke="#000" stroke-width="0.11">40</text>
<line x1="43.5" y1="450.7" x2="48.0" y2="450.7" stroke="#000" stroke-width="1.2"/>
<text x="40.2" y="453.6" font-size="7.3" text-anchor="end" stroke="#000" stroke-width="0.11">60</text>
<line x1="43.5" y1="424.2" x2="48.0" y2="424.2" stroke="#000" stroke-width="1.2"/>
<text x="40.2" y="427.0" font-size="7.3" text-anchor="end" stroke="#000" stroke-width="0.11">80</text>
<line x1="43.5" y1="397.7" x2="48.0" y2="397.7" stroke="#000" stroke-width="1.2"/>
<text x="40.2" y="400.5" font-size="7.3" text-anchor="end" stroke="#000" stroke-width="0.11">100</text>
<line x1="57.0" y1="438.8" x2="95.8" y2="438.8" stroke="#2a2a2a" stroke-width="1.3"/>
<text x="75.0" y="437.0" font-size="7.7" text-anchor="middle" fill="#111" stroke="#111" stroke-width="0.11">NS</text>
<line x1="57.0" y1="450.2" x2="80.0" y2="450.2" stroke="#2a2a2a" stroke-width="1.3"/>
<text x="69.2" y="449.6" font-size="5.5" text-anchor="middle" fill="#111" letter-spacing="0.74" stroke="#111" stroke-width="0.22">***</text>
<line x1="78.3" y1="458.0" x2="101.5" y2="458.0" stroke="#2a2a2a" stroke-width="1.3"/>
<text x="90.2" y="457.8" font-size="5.5" text-anchor="middle" fill="#111" letter-spacing="0.74" stroke="#111" stroke-width="0.22">***</text>
<line x1="126.6" y1="401.8" x2="166.0" y2="401.8" stroke="#2a2a2a" stroke-width="1.3"/>
<text x="144.8" y="400.0" font-size="7.7" text-anchor="middle" fill="#111" stroke="#111" stroke-width="0.11">NS</text>
<line x1="126.6" y1="411.8" x2="150.0" y2="411.8" stroke="#2a2a2a" stroke-width="1.3"/>
<text x="138.2" y="411.5" font-size="5.5" text-anchor="middle" fill="#111" letter-spacing="0.74" stroke="#111" stroke-width="0.22">****</text>
<line x1="144.2" y1="423.8" x2="166.8" y2="423.8" stroke="#2a2a2a" stroke-width="1.3"/>
<text x="155.8" y="424.0" font-size="5.5" text-anchor="middle" fill="#111" letter-spacing="0.74" stroke="#111" stroke-width="0.22">****</text>
<line x1="196.1" y1="496.3" x2="234.9" y2="496.3" stroke="#2a2a2a" stroke-width="1.3"/>
<text x="213.4" y="494.5" font-size="7.7" text-anchor="middle" fill="#111" stroke="#111" stroke-width="0.11">NS</text>
<line x1="196.1" y1="506.9" x2="218.9" y2="506.9" stroke="#2a2a2a" stroke-width="1.3"/>
<text x="207.2" y="506.0" font-size="5.5" text-anchor="middle" fill="#111" letter-spacing="0.74" stroke="#111" stroke-width="0.22">**</text>
<line x1="214.6" y1="512.6" x2="236.8" y2="512.6" stroke="#2a2a2a" stroke-width="1.3"/>
<text x="224.7" y="512.0" font-size="5.5" text-anchor="middle" fill="#111" letter-spacing="0.74" stroke="#111" stroke-width="0.22">*</text>
<text x="323.0" y="361.9" font-size="7.2" textLength="109.5" lengthAdjust="spacingAndGlyphs" stroke="#000" stroke-width="0.10">Absolute circulating blood cells</text>
<circle cx="285.8" cy="383.0" r="2.9" fill="#000000"/>
<text x="294.2" y="385.9" font-size="7.8" textLength="25.0" lengthAdjust="spacingAndGlyphs" stroke="#000" stroke-width="0.12">Vehicle</text>
<circle cx="329.2" cy="383.0" r="2.9" fill="#0000ff"/>
<text x="339.5" y="385.9" font-size="7.8" textLength="63.5" lengthAdjust="spacingAndGlyphs" stroke="#000" stroke-width="0.12">LLY-283 30 mg/kg</text>
<circle cx="413.5" cy="383.0" r="2.9" fill="#ff0000"/>
<text x="421.0" y="385.9" font-size="7.8" textLength="70.5" lengthAdjust="spacingAndGlyphs" stroke="#000" stroke-width="0.12">AM-9747 100 mg/kg</text>
<text x="267.8" y="471.4" font-size="7.6" text-anchor="middle" textLength="31.0" lengthAdjust="spacingAndGlyphs" transform="rotate(-90 267.8 471.4)" stroke="#000" stroke-width="0.11">count/μL</text>
<rect x="293.6" y="514.6" width="7.7" height="16.1" fill="#fff" stroke="#000000" stroke-width="1.7"/>
<line x1="297.4" y1="509.2" x2="297.4" y2="518.0" stroke="#000000" stroke-width="0.7"/>
<line x1="295.1" y1="509.2" x2="299.7" y2="509.2" stroke="#000000" stroke-width="0.7"/>
<line x1="295.1" y1="518.0" x2="299.7" y2="518.0" stroke="#000000" stroke-width="0.7"/>
<rect x="321.2" y="515.7" width="7.7" height="15.0" fill="#fff" stroke="#ff0000" stroke-width="1.7"/>
<line x1="325.1" y1="511.1" x2="325.1" y2="518.7" stroke="#ff0000" stroke-width="0.7"/>
<line x1="322.8" y1="511.1" x2="327.4" y2="511.1" stroke="#ff0000" stroke-width="0.7"/>
<line x1="322.8" y1="518.7" x2="327.4" y2="518.7" stroke="#ff0000" stroke-width="0.7"/>
<line x1="311.5" y1="530.7" x2="311.5" y2="535.3" stroke="#000" stroke-width="1.2"/>
<text x="314.1" y="538.4" font-size="7.8" text-anchor="end" textLength="54.4" lengthAdjust="spacingAndGlyphs" transform="rotate(-90 314.1 538.4)" stroke="none">WCBP (10<tspan font-size="4.3" dy="-2.6">3</tspan><tspan dy="2.6">/μL)</tspan></text>
<rect x="345.0" y="449.9" width="7.4" height="80.8" fill="#fff" stroke="#000000" stroke-width="1.7"/>
<line x1="348.6" y1="445.2" x2="348.6" y2="453.5" stroke="#000000" stroke-width="0.7"/>
<line x1="346.3" y1="445.2" x2="350.9" y2="445.2" stroke="#000000" stroke-width="0.7"/>
<line x1="346.3" y1="453.5" x2="350.9" y2="453.5" stroke="#000000" stroke-width="0.7"/>
<rect x="359.0" y="525.2" width="7.5" height="5.5" fill="#fff" stroke="#0000ff" stroke-width="1.7"/>
<rect x="372.7" y="453.7" width="7.4" height="77.0" fill="#fff" stroke="#ff0000" stroke-width="1.7"/>
<line x1="362.7" y1="530.7" x2="362.7" y2="535.3" stroke="#000" stroke-width="1.2"/>
<text x="365.3" y="538.4" font-size="7.8" text-anchor="end" textLength="47.9" lengthAdjust="spacingAndGlyphs" transform="rotate(-90 365.3 538.4)" stroke="none">RBC (10<tspan font-size="4.3" dy="-2.6">6</tspan><tspan dy="2.6">/μL)</tspan></text>
<rect x="395.7" y="506.5" width="8.2" height="24.2" fill="#fff" stroke="#000000" stroke-width="1.7"/>
<line x1="399.8" y1="501.6" x2="399.8" y2="509.8" stroke="#000000" stroke-width="0.7"/>
<line x1="397.4" y1="501.6" x2="402.1" y2="501.6" stroke="#000000" stroke-width="0.7"/>
<line x1="397.4" y1="509.8" x2="402.1" y2="509.8" stroke="#000000" stroke-width="0.7"/>
<rect x="424.1" y="515.1" width="8.0" height="15.6" fill="#fff" stroke="#ff0000" stroke-width="1.7"/>
<line x1="428.0" y1="511.1" x2="428.0" y2="517.4" stroke="#ff0000" stroke-width="0.7"/>
<line x1="425.7" y1="511.1" x2="430.3" y2="511.1" stroke="#ff0000" stroke-width="0.7"/>
<line x1="425.7" y1="517.4" x2="430.3" y2="517.4" stroke="#ff0000" stroke-width="0.7"/>
<line x1="413.8" y1="530.7" x2="413.8" y2="535.3" stroke="#000" stroke-width="1.2"/>
<text x="416.4" y="538.4" font-size="7.8" text-anchor="end" textLength="56.3" lengthAdjust="spacingAndGlyphs" transform="rotate(-90 416.4 538.4)" stroke="none">RETIC (10<tspan font-size="4.3" dy="-2.6">11</tspan><tspan dy="2.6">/μL)</tspan></text>
<rect x="447.5" y="483.4" width="7.7" height="47.3" fill="#fff" stroke="#000000" stroke-width="1.7"/>
<line x1="451.3" y1="468.0" x2="451.3" y2="495.9" stroke="#000000" stroke-width="0.7"/>
<line x1="449.0" y1="468.0" x2="453.6" y2="468.0" stroke="#000000" stroke-width="0.7"/>
<line x1="449.0" y1="495.9" x2="453.6" y2="495.9" stroke="#000000" stroke-width="0.7"/>
<rect x="475.2" y="497.7" width="7.8" height="33.0" fill="#fff" stroke="#ff0000" stroke-width="1.7"/>
<line x1="479.1" y1="482.3" x2="479.1" y2="511.1" stroke="#ff0000" stroke-width="0.7"/>
<line x1="476.8" y1="482.3" x2="481.4" y2="482.3" stroke="#ff0000" stroke-width="0.7"/>
<line x1="476.8" y1="511.1" x2="481.4" y2="511.1" stroke="#ff0000" stroke-width="0.7"/>
<line x1="465.3" y1="530.7" x2="465.3" y2="535.3" stroke="#000" stroke-width="1.2"/>
<text x="467.9" y="538.4" font-size="7.8" text-anchor="end" textLength="44.9" lengthAdjust="spacingAndGlyphs" transform="rotate(-90 467.9 538.4)" stroke="none">PLT (10<tspan font-size="4.3" dy="-2.6">5</tspan><tspan dy="2.6">/μL)</tspan></text>
<line x1="288.0" y1="403.4" x2="288.0" y2="531.4" stroke="#000" stroke-width="1.5"/>
<line x1="287.3" y1="530.7" x2="489.2" y2="530.7" stroke="#000" stroke-width="1.5"/>
<circle cx="297.1" cy="505.6" r="2.4" fill="#000000"/>
<circle cx="294.8" cy="510.2" r="2.4" fill="#000000"/>
<circle cx="299.4" cy="510.8" r="2.4" fill="#000000"/>
<circle cx="297.1" cy="513.1" r="2.4" fill="#000000"/>
<circle cx="297.1" cy="518.8" r="2.4" fill="#000000"/>
<circle cx="310.6" cy="524.4" r="2.4" fill="#0000ff"/>
<circle cx="308.7" cy="528.1" r="2.4" fill="#0000ff"/>
<circle cx="313.3" cy="527.5" r="2.4" fill="#0000ff"/>
<circle cx="309.8" cy="529.6" r="2.4" fill="#0000ff"/>
<circle cx="312.1" cy="529.6" r="2.4" fill="#0000ff"/>
<circle cx="327.5" cy="509.0" r="2.4" fill="#ff0000"/>
<circle cx="323.1" cy="512.5" r="2.4" fill="#ff0000"/>
<circle cx="327.5" cy="514.8" r="2.4" fill="#ff0000"/>
<circle cx="323.1" cy="516.5" r="2.4" fill="#ff0000"/>
<circle cx="323.7" cy="519.4" r="2.4" fill="#ff0000"/>
<circle cx="347.9" cy="443.8" r="2.4" fill="#000000"/>
<circle cx="351.2" cy="444.4" r="2.4" fill="#000000"/>
<circle cx="346.1" cy="448.5" r="2.4" fill="#000000"/>
<circle cx="350.7" cy="445.7" r="2.4" fill="#000000"/>
<circle cx="348.5" cy="459.5" r="2.4" fill="#000000"/>
<circle cx="361.8" cy="520.5" r="2.4" fill="#0000ff"/>
<circle cx="364.5" cy="522.3" r="2.4" fill="#0000ff"/>
<circle cx="360.0" cy="525.0" r="2.4" fill="#0000ff"/>
<circle cx="363.0" cy="526.0" r="2.4" fill="#0000ff"/>
<circle cx="365.5" cy="526.5" r="2.4" fill="#0000ff"/>
<circle cx="375.2" cy="447.5" r="2.4" fill="#ff0000"/>
<circle cx="377.8" cy="449.4" r="2.4" fill="#ff0000"/>
<circle cx="373.4" cy="451.2" r="2.4" fill="#ff0000"/>
<circle cx="378.9" cy="451.8" r="2.4" fill="#ff0000"/>
<circle cx="376.0" cy="452.2" r="2.4" fill="#ff0000"/>
<circle cx="398.5" cy="499.4" r="2.4" fill="#000000"/>
<circle cx="401.2" cy="501.2" r="2.4" fill="#000000"/>
<circle cx="401.8" cy="506.5" r="2.4" fill="#000000"/>
<circle cx="398.2" cy="508.8" r="2.4" fill="#000000"/>
<circle cx="398.0" cy="511.2" r="2.4" fill="#000000"/>
<circle cx="411.5" cy="530.4" r="2.4" fill="#0000ff"/>
<circle cx="412.8" cy="530.4" r="2.4" fill="#0000ff"/>
<circle cx="413.8" cy="530.4" r="2.4" fill="#0000ff"/>
<circle cx="414.8" cy="530.4" r="2.4" fill="#0000ff"/>
<circle cx="416.0" cy="530.4" r="2.4" fill="#0000ff"/>
<circle cx="425.3" cy="508.8" r="2.4" fill="#ff0000"/>
<circle cx="427.6" cy="510.6" r="2.4" fill="#ff0000"/>
<circle cx="430.6" cy="513.5" r="2.4" fill="#ff0000"/>
<circle cx="425.9" cy="515.3" r="2.4" fill="#ff0000"/>
<circle cx="425.9" cy="518.0" r="2.4" fill="#ff0000"/>
<circle cx="448.8" cy="468.1" r="2.4" fill="#000000"/>
<circle cx="453.2" cy="472.0" r="2.4" fill="#000000"/>
<circle cx="448.8" cy="476.4" r="2.4" fill="#000000"/>
<circle cx="451.1" cy="490.0" r="2.4" fill="#000000"/>
<circle cx="451.1" cy="502.3" r="2.4" fill="#000000"/>
<circle cx="464.7" cy="527.5" r="2.4" fill="#0000ff"/>
<circle cx="462.9" cy="530.0" r="2.4" fill="#0000ff"/>
<circle cx="466.4" cy="530.0" r="2.4" fill="#0000ff"/>
<circle cx="464.7" cy="530.2" r="2.4" fill="#0000ff"/>
<circle cx="463.8" cy="529.0" r="2.4" fill="#0000ff"/>
<circle cx="479.1" cy="479.1" r="2.4" fill="#ff0000"/>
<circle cx="479.1" cy="485.8" r="2.4" fill="#ff0000"/>
<circle cx="476.7" cy="496.3" r="2.4" fill="#ff0000"/>
<circle cx="481.4" cy="500.6" r="2.4" fill="#ff0000"/>
<circle cx="479.1" cy="518.7" r="2.4" fill="#ff0000"/>
<line x1="283.5" y1="530.7" x2="288.0" y2="530.7" stroke="#000" stroke-width="1.2"/>
<text x="280.5" y="533.5" font-size="7.3" text-anchor="end" stroke="#000" stroke-width="0.11">0</text>
<line x1="283.5" y1="499.1" x2="288.0" y2="499.1" stroke="#000" stroke-width="1.2"/>
<text x="280.5" y="501.9" font-size="7.3" text-anchor="end" stroke="#000" stroke-width="0.11">5</text>
<line x1="283.5" y1="467.4" x2="288.0" y2="467.4" stroke="#000" stroke-width="1.2"/>
<text x="280.5" y="470.2" font-size="7.3" text-anchor="end" stroke="#000" stroke-width="0.11">10</text>
<line x1="283.5" y1="435.8" x2="288.0" y2="435.8" stroke="#000" stroke-width="1.2"/>
<text x="280.5" y="438.6" font-size="7.3" text-anchor="end" stroke="#000" stroke-width="0.11">15</text>
<line x1="283.5" y1="404.1" x2="288.0" y2="404.1" stroke="#000" stroke-width="1.2"/>
<text x="280.5" y="406.9" font-size="7.3" text-anchor="end" stroke="#000" stroke-width="0.11">20</text>
<line x1="295.9" y1="482.6" x2="329.7" y2="482.6" stroke="#2a2a2a" stroke-width="1.3"/>
<text x="312.9" y="478.7" font-size="7.7" text-anchor="middle" fill="#111" stroke="#111" stroke-width="0.11">NS</text>
<line x1="295.9" y1="492.0" x2="315.9" y2="492.0" stroke="#2a2a2a" stroke-width="1.3"/>
<text x="306.6" y="491.5" font-size="5.5" text-anchor="middle" fill="#111" letter-spacing="0.74" stroke="#111" stroke-width="0.22">***</text>
<line x1="309.1" y1="500.9" x2="329.7" y2="500.9" stroke="#2a2a2a" stroke-width="1.3"/>
<text x="319.8" y="500.8" font-size="5.5" text-anchor="middle" fill="#111" letter-spacing="0.74" stroke="#111" stroke-width="0.22">**</text>
<line x1="347.6" y1="422.8" x2="381.2" y2="422.8" stroke="#2a2a2a" stroke-width="1.3"/>
<text x="363.8" y="418.6" font-size="7.7" text-anchor="middle" fill="#111" stroke="#111" stroke-width="0.11">NS</text>
<line x1="347.6" y1="432.4" x2="366.5" y2="432.4" stroke="#2a2a2a" stroke-width="1.3"/>
<text x="358.9" y="432.2" font-size="5.5" text-anchor="middle" fill="#111" letter-spacing="0.74" stroke="#111" stroke-width="0.22">****</text>
<line x1="360.9" y1="442.0" x2="381.2" y2="442.0" stroke="#2a2a2a" stroke-width="1.3"/>
<text x="371.3" y="441.5" font-size="5.5" text-anchor="middle" fill="#111" letter-spacing="0.74" stroke="#111" stroke-width="0.22">****</text>
<line x1="398.1" y1="481.9" x2="431.5" y2="481.9" stroke="#2a2a2a" stroke-width="1.3"/>
<text x="414.9" y="480.7" font-size="5.5" text-anchor="middle" fill="#111" letter-spacing="0.74" stroke="#111" stroke-width="0.22">*</text>
<line x1="398.1" y1="491.7" x2="417.8" y2="491.7" stroke="#2a2a2a" stroke-width="1.3"/>
<text x="409.0" y="491.3" font-size="5.5" text-anchor="middle" fill="#111" letter-spacing="0.74" stroke="#111" stroke-width="0.22">****</text>
<line x1="411.2" y1="500.9" x2="431.5" y2="500.9" stroke="#2a2a2a" stroke-width="1.3"/>
<text x="422.1" y="500.5" font-size="5.5" text-anchor="middle" fill="#111" letter-spacing="0.74" stroke="#111" stroke-width="0.22">****</text>
<line x1="448.2" y1="449.1" x2="482.3" y2="449.1" stroke="#2a2a2a" stroke-width="1.3"/>
<text x="463.6" y="445.4" font-size="7.7" text-anchor="middle" fill="#111" stroke="#111" stroke-width="0.11">NS</text>
<line x1="448.2" y1="458.3" x2="467.6" y2="458.3" stroke="#2a2a2a" stroke-width="1.3"/>
<text x="458.1" y="457.8" font-size="5.5" text-anchor="middle" fill="#111" letter-spacing="0.74" stroke="#111" stroke-width="0.22">***</text>
<line x1="462.0" y1="467.8" x2="482.3" y2="467.8" stroke="#2a2a2a" stroke-width="1.3"/>
<text x="472.2" y="467.4" font-size="5.5" text-anchor="middle" fill="#111" letter-spacing="0.74" stroke="#111" stroke-width="0.22">**</text>
</svg>
</body></html>
